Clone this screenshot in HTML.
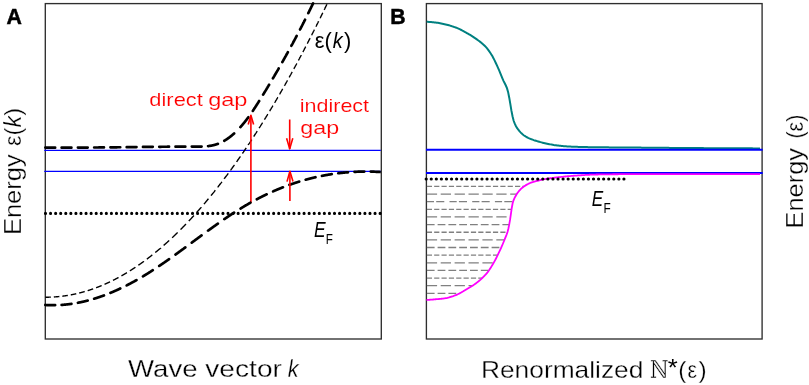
<!DOCTYPE html>
<html><head><meta charset="utf-8"><style>
html,body{margin:0;padding:0;background:#fff;}
svg{display:block;}
text{font-family:"Liberation Sans","DejaVu Sans",sans-serif;}
.th{stroke:#fff;stroke-width:0.3px;}
.th2{stroke:#fff;stroke-width:0.15px;}
.tk{stroke:#000;stroke-width:0.5px;}
</style></head><body>
<svg width="809" height="385" viewBox="0 0 809 385">
  <rect width="809" height="385" fill="#fff"/>
  <defs>
    <clipPath id="ca"><rect x="44" y="1.5" width="336.8" height="337.5"/></clipPath>
    <clipPath id="cb"><rect x="425.9" y="3.6" width="336.8" height="335.4"/></clipPath>
    <clipPath id="ch"><path d="M426.5,170 L760,170 L760,174.2 L759.16,174.2 L758.33,174.2 L757.49,174.2 L756.66,174.2 L755.82,174.2 L754.98,174.2 L754.15,174.2 L753.31,174.2 L752.48,174.2 L751.64,174.2 L750.81,174.2 L749.97,174.2 L749.13,174.2 L748.3,174.2 L747.46,174.2 L746.63,174.2 L745.79,174.2 L744.95,174.2 L744.12,174.2 L743.28,174.2 L742.45,174.2 L741.61,174.2 L740.78,174.2 L739.94,174.2 L739.1,174.2 L738.27,174.2 L737.43,174.2 L736.6,174.2 L735.76,174.2 L734.92,174.2 L734.09,174.2 L733.25,174.2 L732.42,174.2 L731.58,174.2 L730.75,174.2 L729.91,174.2 L729.07,174.2 L728.24,174.2 L727.4,174.2 L726.57,174.2 L725.73,174.2 L724.89,174.2 L724.06,174.2 L723.22,174.2 L722.39,174.2 L721.55,174.2 L720.72,174.2 L719.88,174.2 L719.04,174.2 L718.21,174.2 L717.37,174.2 L716.54,174.2 L715.7,174.2 L714.86,174.2 L714.03,174.2 L713.19,174.2 L712.36,174.2 L711.52,174.2 L710.69,174.2 L709.85,174.2 L709.01,174.2 L708.18,174.2 L707.34,174.2 L706.51,174.2 L705.67,174.2 L704.83,174.2 L704,174.2 L703.16,174.2 L702.33,174.2 L701.49,174.2 L700.66,174.2 L699.82,174.2 L698.98,174.2 L698.15,174.2 L697.31,174.2 L696.48,174.2 L695.64,174.2 L694.8,174.2 L693.97,174.2 L693.13,174.2 L692.3,174.2 L691.46,174.2 L690.63,174.2 L689.79,174.2 L688.95,174.2 L688.12,174.2 L687.28,174.2 L686.45,174.2 L685.61,174.2 L684.77,174.2 L683.94,174.2 L683.1,174.2 L682.27,174.2 L681.43,174.2 L680.6,174.2 L679.76,174.2 L678.92,174.2 L678.09,174.2 L677.25,174.2 L676.42,174.2 L675.58,174.2 L674.74,174.2 L673.91,174.2 L673.07,174.2 L672.24,174.2 L671.4,174.2 L670.57,174.2 L669.73,174.2 L668.89,174.2 L668.06,174.2 L667.22,174.2 L666.39,174.2 L665.55,174.2 L664.71,174.2 L663.88,174.2 L663.04,174.2 L662.21,174.2 L661.37,174.2 L660.54,174.2 L659.7,174.2 L658.86,174.2 L658.03,174.2 L657.19,174.2 L656.36,174.2 L655.52,174.2 L654.68,174.2 L653.85,174.2 L653.01,174.2 L652.18,174.2 L651.34,174.2 L650.51,174.2 L649.67,174.2 L648.83,174.2 L648,174.2 L647.16,174.2 L646.33,174.2 L645.49,174.2 L644.65,174.2 L643.82,174.2 L642.98,174.2 L642.15,174.2 L641.31,174.2 L640.47,174.2 L639.64,174.2 L638.8,174.2 L637.97,174.2 L637.13,174.2 L636.3,174.2 L635.46,174.2 L634.62,174.2 L633.79,174.2 L632.95,174.2 L632.12,174.2 L631.28,174.2 L630.44,174.2 L629.61,174.2 L628.77,174.2 L627.94,174.2 L627.1,174.2 L626.27,174.2 L625.43,174.2 L624.59,174.2 L623.76,174.2 L622.92,174.21 L622.09,174.21 L621.25,174.21 L620.41,174.21 L619.58,174.22 L618.74,174.22 L617.91,174.23 L617.07,174.24 L616.24,174.24 L615.4,174.25 L614.56,174.26 L613.73,174.26 L612.89,174.27 L612.06,174.28 L611.22,174.29 L610.38,174.3 L609.55,174.31 L608.71,174.32 L607.88,174.33 L607.04,174.34 L606.21,174.35 L605.37,174.36 L604.53,174.37 L603.7,174.39 L602.86,174.4 L602.03,174.41 L601.19,174.43 L600.35,174.44 L599.52,174.45 L598.68,174.47 L597.85,174.48 L597.01,174.5 L596.18,174.51 L595.34,174.53 L594.5,174.55 L593.67,174.58 L592.83,174.61 L592,174.64 L591.16,174.67 L590.32,174.71 L589.49,174.75 L588.65,174.79 L587.82,174.83 L586.98,174.88 L586.15,174.93 L585.31,174.97 L584.47,175.03 L583.64,175.08 L582.8,175.13 L581.97,175.18 L581.13,175.24 L580.29,175.3 L579.46,175.35 L578.62,175.41 L577.79,175.47 L576.95,175.53 L576.12,175.59 L575.28,175.65 L574.44,175.7 L573.61,175.76 L572.77,175.83 L571.94,175.89 L571.1,175.96 L570.26,176.03 L569.43,176.11 L568.59,176.18 L567.76,176.26 L566.92,176.34 L566.09,176.42 L565.25,176.51 L564.41,176.59 L563.58,176.68 L562.74,176.77 L561.91,176.86 L561.07,176.95 L560.23,177.04 L559.4,177.13 L558.56,177.23 L557.73,177.32 L556.89,177.42 L556.06,177.51 L555.22,177.61 L554.38,177.71 L553.55,177.81 L552.71,177.92 L551.88,178.03 L551.04,178.14 L550.2,178.25 L549.37,178.37 L548.53,178.49 L547.7,178.62 L546.86,178.75 L546.03,178.89 L545.19,179.03 L544.35,179.18 L543.52,179.35 L542.68,179.54 L541.85,179.74 L541.01,179.95 L540.17,180.16 L539.34,180.36 L538.5,180.56 L537.67,180.76 L536.83,180.96 L535.99,181.16 L535.16,181.37 L534.32,181.59 L533.49,181.83 L532.65,182.08 L531.82,182.36 L530.98,182.65 L530.14,182.99 L529.31,183.35 L528.47,183.75 L527.64,184.18 L526.8,184.64 L525.96,185.13 L525.13,185.64 L524.29,186.2 L523.46,186.8 L522.62,187.46 L521.79,188.17 L520.95,188.94 L520.11,189.77 L519.28,190.67 L518.44,191.68 L517.61,192.82 L516.77,194.09 L515.93,195.47 L515.1,196.94 L514.26,198.58 L513.43,200.62 L512.59,203.5 L511.76,207.98 L510.92,213.78 L510.08,219.69 L509.25,224.39 L508.41,228.46 L507.58,231.67 L506.74,234.22 L505.9,236.39 L505.07,238.41 L504.23,240.47 L503.4,242.52 L502.56,244.52 L501.73,246.47 L500.89,248.36 L500.05,250.18 L499.22,251.97 L498.38,253.72 L497.55,255.44 L496.71,257.11 L495.87,258.74 L495.04,260.32 L494.2,261.84 L493.37,263.3 L492.53,264.73 L491.7,266.14 L490.86,267.51 L490.02,268.82 L489.19,270.08 L488.35,271.25 L487.52,272.34 L486.68,273.34 L485.84,274.3 L485.01,275.22 L484.17,276.1 L483.34,276.95 L482.5,277.77 L481.67,278.56 L480.83,279.33 L479.99,280.06 L479.16,280.78 L478.32,281.47 L477.49,282.14 L476.65,282.79 L475.81,283.42 L474.98,284.03 L474.14,284.62 L473.31,285.19 L472.47,285.75 L471.64,286.29 L470.8,286.81 L469.96,287.33 L469.13,287.84 L468.29,288.34 L467.46,288.83 L466.62,289.33 L465.78,289.82 L464.95,290.32 L464.11,290.82 L463.28,291.32 L462.44,291.8 L461.61,292.28 L460.77,292.75 L459.93,293.2 L459.1,293.64 L458.26,294.05 L457.43,294.44 L456.59,294.8 L455.75,295.14 L454.92,295.46 L454.08,295.78 L453.25,296.1 L452.41,296.4 L451.58,296.69 L450.74,296.97 L449.9,297.23 L449.07,297.48 L448.23,297.7 L447.4,297.9 L446.56,298.07 L445.72,298.21 L444.89,298.34 L444.05,298.45 L443.22,298.56 L442.38,298.65 L441.55,298.74 L440.71,298.83 L439.87,298.91 L439.04,298.98 L438.2,299.06 L437.37,299.13 L436.53,299.2 L435.69,299.27 L434.86,299.35 L434.02,299.42 L433.19,299.49 L432.35,299.56 L431.52,299.63 L430.68,299.7 L429.84,299.76 L429.01,299.82 L428.17,299.89 L427.34,299.94 L426.5,300 Z"/></clipPath>
  </defs>
  <!-- Panel A -->
  <rect x="45.3" y="3.6" width="336" height="335.4" fill="none" stroke="#2e2e2e" stroke-width="1.35"/>
  <g clip-path="url(#ca)" fill="none">
    <line x1="44.3" y1="150.3" x2="382" y2="150.3" stroke="#0000ff" stroke-width="1.2"/>
    <line x1="44.3" y1="171.4" x2="382" y2="171.4" stroke="#0000ff" stroke-width="1.2"/>
    <path d="M45.4,297.21 L45.5,297.21 L45.59,297.21 L45.69,297.21 L45.78,297.21 L45.88,297.21 L45.97,297.21 L46.07,297.21 L46.16,297.21 L46.26,297.21 L46.36,297.21 L46.45,297.21 L46.55,297.21 L46.64,297.21 L46.74,297.2 L46.83,297.2 L46.93,297.2 L47.02,297.2 L47.12,297.2 L47.22,297.2 L47.31,297.2 L47.41,297.2 L47.5,297.2 L47.6,297.2 L47.69,297.19 L47.79,297.19 L47.88,297.19 L47.98,297.19 L48.08,297.19 L48.17,297.19 L48.27,297.19 L48.36,297.18 L48.46,297.18 L48.55,297.18 L48.65,297.18 L48.74,297.18 L48.84,297.17 L48.94,297.17 L49.03,297.17 L49.13,297.17 L49.22,297.16 L49.32,297.16 L49.41,297.16 L49.51,297.16 L49.6,297.15 L49.7,297.15 L49.8,297.15 L49.89,297.15 L49.99,297.14 L50.08,297.14 L50.18,297.14 L50.27,297.13 L50.37,297.13 L50.46,297.13 L50.56,297.12 L50.66,297.12 L50.75,297.12 L50.85,297.11 L50.9,297.11 M53.85,296.97 L53.91,296.96 L54,296.96 L54.1,296.95 L54.19,296.95 L54.29,296.94 L54.38,296.93 L54.48,296.93 L54.57,296.92 L54.67,296.91 L54.77,296.91 L54.86,296.9 L54.96,296.9 L55.05,296.89 L55.15,296.88 L55.24,296.88 L55.34,296.87 L55.43,296.86 L55.53,296.85 L55.63,296.85 L55.72,296.84 L55.82,296.83 L55.91,296.83 L56.01,296.82 L56.1,296.81 L56.2,296.8 L56.29,296.8 L56.39,296.79 L56.49,296.78 L56.58,296.77 L56.68,296.77 L56.77,296.76 L56.87,296.75 L56.96,296.74 L57.06,296.73 L57.15,296.73 L57.25,296.72 L57.35,296.71 L57.44,296.7 L57.54,296.69 L57.63,296.69 L57.73,296.68 L57.82,296.67 L57.92,296.66 L58.01,296.65 L58.11,296.64 L58.21,296.63 L58.3,296.62 L58.4,296.62 L58.49,296.61 L58.59,296.6 L58.68,296.59 L58.78,296.58 L58.87,296.57 L58.97,296.56 L59.07,296.55 L59.16,296.54 L59.26,296.53 L59.35,296.52 M62.3,296.19 L62.32,296.19 L62.41,296.18 L62.51,296.17 L62.6,296.15 L62.7,296.14 L62.79,296.13 L62.89,296.12 L62.98,296.11 L63.08,296.09 L63.18,296.08 L63.27,296.07 L63.37,296.06 L63.46,296.04 L63.56,296.03 L63.65,296.02 L63.75,296 L63.84,295.99 L63.94,295.98 L64.04,295.97 L64.13,295.95 L64.23,295.94 L64.32,295.93 L64.42,295.91 L64.51,295.9 L64.61,295.89 L64.7,295.87 L64.8,295.86 L64.9,295.85 L64.99,295.83 L65.09,295.82 L65.18,295.8 L65.28,295.79 L65.37,295.78 L65.47,295.76 L65.56,295.75 L65.66,295.73 L65.76,295.72 L65.85,295.71 L65.95,295.69 L66.04,295.68 L66.14,295.66 L66.23,295.65 L66.33,295.63 L66.42,295.62 L66.52,295.6 L66.62,295.59 L66.71,295.57 L66.81,295.56 L66.9,295.54 L67,295.53 L67.09,295.51 L67.19,295.5 L67.28,295.48 L67.38,295.47 L67.48,295.45 L67.57,295.44 L67.67,295.42 L67.76,295.41 L67.8,295.4 M70.75,294.88 L70.82,294.87 L70.92,294.85 L71.01,294.83 L71.11,294.82 L71.2,294.8 L71.3,294.78 L71.39,294.76 L71.49,294.74 L71.58,294.72 L71.68,294.71 L71.78,294.69 L71.87,294.67 L71.97,294.65 L72.06,294.63 L72.16,294.61 L72.25,294.59 L72.35,294.57 L72.44,294.56 L72.54,294.54 L72.64,294.52 L72.73,294.5 L72.83,294.48 L72.92,294.46 L73.02,294.44 L73.11,294.42 L73.21,294.4 L73.31,294.38 L73.4,294.36 L73.5,294.34 L73.59,294.32 L73.69,294.3 L73.78,294.28 L73.88,294.26 L73.97,294.24 L74.07,294.22 L74.17,294.2 L74.26,294.18 L74.36,294.16 L74.45,294.14 L74.55,294.12 L74.64,294.1 L74.74,294.08 L74.83,294.06 L74.93,294.04 L75.03,294.02 L75.12,294 L75.22,293.98 L75.31,293.95 L75.41,293.93 L75.5,293.91 L75.6,293.89 L75.69,293.87 L75.79,293.85 L75.89,293.83 L75.98,293.8 L76.08,293.78 L76.17,293.76 L76.25,293.74 M79.2,293.04 L79.23,293.03 L79.33,293.01 L79.42,292.99 L79.52,292.96 L79.61,292.94 L79.71,292.91 L79.8,292.89 L79.9,292.86 L79.99,292.84 L80.09,292.82 L80.19,292.79 L80.28,292.77 L80.38,292.74 L80.47,292.72 L80.57,292.69 L80.66,292.67 L80.76,292.64 L80.85,292.62 L80.95,292.59 L81.05,292.57 L81.14,292.54 L81.24,292.52 L81.33,292.49 L81.43,292.47 L81.52,292.44 L81.62,292.41 L81.71,292.39 L81.81,292.36 L81.91,292.34 L82,292.31 L82.1,292.29 L82.19,292.26 L82.29,292.23 L82.38,292.21 L82.48,292.18 L82.57,292.16 L82.67,292.13 L82.77,292.1 L82.86,292.08 L82.96,292.05 L83.05,292.02 L83.15,292 L83.24,291.97 L83.34,291.94 L83.43,291.92 L83.53,291.89 L83.63,291.86 L83.72,291.84 L83.82,291.81 L83.91,291.78 L84.01,291.75 L84.1,291.73 L84.2,291.7 L84.3,291.67 L84.39,291.64 L84.49,291.62 L84.58,291.59 L84.68,291.56 L84.7,291.56 M87.65,290.67 L87.74,290.64 L87.83,290.61 L87.93,290.58 L88.02,290.55 L88.12,290.52 L88.21,290.49 L88.31,290.46 L88.4,290.43 L88.5,290.4 L88.6,290.37 L88.69,290.34 L88.79,290.31 L88.88,290.28 L88.98,290.24 L89.07,290.21 L89.17,290.18 L89.26,290.15 L89.36,290.12 L89.46,290.09 L89.55,290.06 L89.65,290.03 L89.74,290 L89.84,289.96 L89.93,289.93 L90.03,289.9 L90.12,289.87 L90.22,289.84 L90.32,289.81 L90.41,289.77 L90.51,289.74 L90.6,289.71 L90.7,289.68 L90.79,289.65 L90.89,289.61 L90.98,289.58 L91.08,289.55 L91.18,289.52 L91.27,289.49 L91.37,289.45 L91.46,289.42 L91.56,289.39 L91.65,289.35 L91.75,289.32 L91.84,289.29 L91.94,289.26 L92.04,289.22 L92.13,289.19 L92.23,289.16 L92.32,289.12 L92.42,289.09 L92.51,289.06 L92.61,289.02 L92.7,288.99 L92.8,288.96 L92.9,288.92 L92.99,288.89 L93.09,288.86 L93.15,288.83 M96.1,287.76 L96.15,287.74 L96.24,287.71 L96.34,287.67 L96.43,287.63 L96.53,287.6 L96.62,287.56 L96.72,287.53 L96.81,287.49 L96.91,287.45 L97.01,287.42 L97.1,287.38 L97.2,287.34 L97.29,287.31 L97.39,287.27 L97.48,287.23 L97.58,287.2 L97.67,287.16 L97.77,287.12 L97.87,287.08 L97.96,287.05 L98.06,287.01 L98.15,286.97 L98.25,286.94 L98.34,286.9 L98.44,286.86 L98.53,286.82 L98.63,286.79 L98.73,286.75 L98.82,286.71 L98.92,286.67 L99.01,286.63 L99.11,286.6 L99.2,286.56 L99.3,286.52 L99.39,286.48 L99.49,286.44 L99.59,286.4 L99.68,286.37 L99.78,286.33 L99.87,286.29 L99.97,286.25 L100.06,286.21 L100.16,286.17 L100.25,286.13 L100.35,286.1 L100.45,286.06 L100.54,286.02 L100.64,285.98 L100.73,285.94 L100.83,285.9 L100.92,285.86 L101.02,285.82 L101.11,285.78 L101.21,285.74 L101.31,285.7 L101.4,285.66 L101.5,285.62 L101.59,285.58 L101.6,285.58 M104.55,284.32 L104.55,284.32 L104.65,284.28 L104.75,284.23 L104.84,284.19 L104.94,284.15 L105.03,284.11 L105.13,284.07 L105.22,284.02 L105.32,283.98 L105.41,283.94 L105.51,283.9 L105.61,283.85 L105.7,283.81 L105.8,283.77 L105.89,283.72 L105.99,283.68 L106.08,283.64 L106.18,283.6 L106.28,283.55 L106.37,283.51 L106.47,283.47 L106.56,283.42 L106.66,283.38 L106.75,283.34 L106.85,283.29 L106.94,283.25 L107.04,283.21 L107.14,283.16 L107.23,283.12 L107.33,283.07 L107.42,283.03 L107.52,282.99 L107.61,282.94 L107.71,282.9 L107.8,282.85 L107.9,282.81 L108,282.77 L108.09,282.72 L108.19,282.68 L108.28,282.63 L108.38,282.59 L108.47,282.54 L108.57,282.5 L108.66,282.45 L108.76,282.41 L108.86,282.36 L108.95,282.32 L109.05,282.27 L109.14,282.23 L109.24,282.18 L109.33,282.14 L109.43,282.09 L109.52,282.05 L109.62,282 L109.72,281.96 L109.81,281.91 L109.91,281.87 L110,281.82 L110.05,281.8 M113,280.35 L113.06,280.32 L113.16,280.27 L113.25,280.22 L113.35,280.18 L113.44,280.13 L113.54,280.08 L113.63,280.03 L113.73,279.98 L113.82,279.93 L113.92,279.89 L114.02,279.84 L114.11,279.79 L114.21,279.74 L114.3,279.69 L114.4,279.64 L114.49,279.59 L114.59,279.54 L114.68,279.5 L114.78,279.45 L114.88,279.4 L114.97,279.35 L115.07,279.3 L115.16,279.25 L115.26,279.2 L115.35,279.15 L115.45,279.1 L115.54,279.05 L115.64,279 L115.74,278.95 L115.83,278.9 L115.93,278.85 L116.02,278.8 L116.12,278.75 L116.21,278.7 L116.31,278.65 L116.4,278.6 L116.5,278.55 L116.6,278.5 L116.69,278.45 L116.79,278.4 L116.88,278.35 L116.98,278.3 L117.07,278.25 L117.17,278.2 L117.27,278.14 L117.36,278.09 L117.46,278.04 L117.55,277.99 L117.65,277.94 L117.74,277.89 L117.84,277.84 L117.93,277.79 L118.03,277.74 L118.13,277.68 L118.22,277.63 L118.32,277.58 L118.41,277.53 L118.5,277.48 M121.45,275.85 L121.47,275.84 L121.57,275.78 L121.66,275.73 L121.76,275.68 L121.85,275.62 L121.95,275.57 L122.04,275.51 L122.14,275.46 L122.23,275.4 L122.33,275.35 L122.43,275.3 L122.52,275.24 L122.62,275.19 L122.71,275.13 L122.81,275.08 L122.9,275.02 L123,274.97 L123.09,274.91 L123.19,274.86 L123.29,274.8 L123.38,274.75 L123.48,274.69 L123.57,274.64 L123.67,274.58 L123.76,274.52 L123.86,274.47 L123.95,274.41 L124.05,274.36 L124.15,274.3 L124.24,274.25 L124.34,274.19 L124.43,274.13 L124.53,274.08 L124.62,274.02 L124.72,273.97 L124.81,273.91 L124.91,273.85 L125.01,273.8 L125.1,273.74 L125.2,273.68 L125.29,273.63 L125.39,273.57 L125.48,273.51 L125.58,273.46 L125.67,273.4 L125.77,273.34 L125.87,273.29 L125.96,273.23 L126.06,273.17 L126.15,273.11 L126.25,273.06 L126.34,273 L126.44,272.94 L126.53,272.89 L126.63,272.83 L126.73,272.77 L126.82,272.71 L126.92,272.65 L126.95,272.63 M129.9,270.82 L129.98,270.77 L130.07,270.71 L130.17,270.65 L130.26,270.59 L130.36,270.53 L130.45,270.47 L130.55,270.41 L130.64,270.35 L130.74,270.29 L130.84,270.23 L130.93,270.17 L131.03,270.11 L131.12,270.05 L131.22,269.99 L131.31,269.92 L131.41,269.86 L131.5,269.8 L131.6,269.74 L131.7,269.68 L131.79,269.62 L131.89,269.56 L131.98,269.5 L132.08,269.44 L132.17,269.37 L132.27,269.31 L132.36,269.25 L132.46,269.19 L132.56,269.13 L132.65,269.07 L132.75,269 L132.84,268.94 L132.94,268.88 L133.03,268.82 L133.13,268.76 L133.22,268.69 L133.32,268.63 L133.42,268.57 L133.51,268.51 L133.61,268.44 L133.7,268.38 L133.8,268.32 L133.89,268.26 L133.99,268.19 L134.08,268.13 L134.18,268.07 L134.28,268 L134.37,267.94 L134.47,267.88 L134.56,267.81 L134.66,267.75 L134.75,267.69 L134.85,267.62 L134.94,267.56 L135.04,267.5 L135.14,267.43 L135.23,267.37 L135.33,267.31 L135.4,267.26 M138.35,265.26 L138.38,265.23 L138.48,265.17 L138.58,265.1 L138.67,265.03 L138.77,264.97 L138.86,264.9 L138.96,264.84 L139.05,264.77 L139.15,264.7 L139.25,264.64 L139.34,264.57 L139.44,264.5 L139.53,264.44 L139.63,264.37 L139.72,264.3 L139.82,264.24 L139.91,264.17 L140.01,264.1 L140.11,264.03 L140.2,263.97 L140.3,263.9 L140.39,263.83 L140.49,263.77 L140.58,263.7 L140.68,263.63 L140.77,263.56 L140.87,263.5 L140.97,263.43 L141.06,263.36 L141.16,263.29 L141.25,263.22 L141.35,263.16 L141.44,263.09 L141.54,263.02 L141.63,262.95 L141.73,262.88 L141.83,262.82 L141.92,262.75 L142.02,262.68 L142.11,262.61 L142.21,262.54 L142.3,262.47 L142.4,262.4 L142.49,262.34 L142.59,262.27 L142.69,262.2 L142.78,262.13 L142.88,262.06 L142.97,261.99 L143.07,261.92 L143.16,261.85 L143.26,261.78 L143.35,261.71 L143.45,261.64 L143.55,261.57 L143.64,261.5 L143.74,261.43 L143.83,261.37 L143.85,261.35 M146.8,259.17 L146.89,259.1 L146.99,259.03 L147.08,258.95 L147.18,258.88 L147.27,258.81 L147.37,258.74 L147.46,258.66 L147.56,258.59 L147.65,258.52 L147.75,258.45 L147.85,258.37 L147.94,258.3 L148.04,258.23 L148.13,258.16 L148.23,258.08 L148.32,258.01 L148.42,257.94 L148.51,257.86 L148.61,257.79 L148.71,257.72 L148.8,257.65 L148.9,257.57 L148.99,257.5 L149.09,257.43 L149.18,257.35 L149.28,257.28 L149.37,257.2 L149.47,257.13 L149.57,257.06 L149.66,256.98 L149.76,256.91 L149.85,256.84 L149.95,256.76 L150.04,256.69 L150.14,256.61 L150.24,256.54 L150.33,256.46 L150.43,256.39 L150.52,256.32 L150.62,256.24 L150.71,256.17 L150.81,256.09 L150.9,256.02 L151,255.94 L151.1,255.87 L151.19,255.79 L151.29,255.72 L151.38,255.64 L151.48,255.57 L151.57,255.49 L151.67,255.42 L151.76,255.34 L151.86,255.27 L151.96,255.19 L152.05,255.11 L152.15,255.04 L152.24,254.96 L152.3,254.92 M155.25,252.55 L155.3,252.5 L155.4,252.43 L155.49,252.35 L155.59,252.27 L155.68,252.19 L155.78,252.11 L155.87,252.04 L155.97,251.96 L156.06,251.88 L156.16,251.8 L156.26,251.72 L156.35,251.64 L156.45,251.57 L156.54,251.49 L156.64,251.41 L156.73,251.33 L156.83,251.25 L156.92,251.17 L157.02,251.09 L157.12,251.01 L157.21,250.93 L157.31,250.85 L157.4,250.77 L157.5,250.7 L157.59,250.62 L157.69,250.54 L157.78,250.46 L157.88,250.38 L157.98,250.3 L158.07,250.22 L158.17,250.14 L158.26,250.06 L158.36,249.98 L158.45,249.9 L158.55,249.82 L158.64,249.74 L158.74,249.66 L158.84,249.58 L158.93,249.5 L159.03,249.42 L159.12,249.34 L159.22,249.25 L159.31,249.17 L159.41,249.09 L159.5,249.01 L159.6,248.93 L159.7,248.85 L159.79,248.77 L159.89,248.69 L159.98,248.61 L160.08,248.53 L160.17,248.44 L160.27,248.36 L160.36,248.28 L160.46,248.2 L160.56,248.12 L160.65,248.04 L160.75,247.96 L160.75,247.95 M163.7,245.4 L163.71,245.39 L163.81,245.3 L163.9,245.22 L164,245.14 L164.09,245.05 L164.19,244.97 L164.28,244.88 L164.38,244.8 L164.47,244.72 L164.57,244.63 L164.67,244.55 L164.76,244.46 L164.86,244.38 L164.95,244.29 L165.05,244.21 L165.14,244.12 L165.24,244.04 L165.33,243.95 L165.43,243.87 L165.53,243.78 L165.62,243.7 L165.72,243.61 L165.81,243.53 L165.91,243.44 L166,243.36 L166.1,243.27 L166.19,243.19 L166.29,243.1 L166.39,243.01 L166.48,242.93 L166.58,242.84 L166.67,242.76 L166.77,242.67 L166.86,242.58 L166.96,242.5 L167.05,242.41 L167.15,242.33 L167.25,242.24 L167.34,242.15 L167.44,242.07 L167.53,241.98 L167.63,241.89 L167.72,241.81 L167.82,241.72 L167.91,241.63 L168.01,241.55 L168.11,241.46 L168.2,241.37 L168.3,241.29 L168.39,241.2 L168.49,241.11 L168.58,241.02 L168.68,240.94 L168.77,240.85 L168.87,240.76 L168.97,240.68 L169.06,240.59 L169.16,240.5 L169.2,240.46 M172.15,237.72 L172.22,237.66 L172.31,237.57 L172.41,237.48 L172.5,237.39 L172.6,237.3 L172.69,237.21 L172.79,237.12 L172.88,237.03 L172.98,236.94 L173.08,236.85 L173.17,236.76 L173.27,236.67 L173.36,236.58 L173.46,236.49 L173.55,236.39 L173.65,236.3 L173.74,236.21 L173.84,236.12 L173.94,236.03 L174.03,235.94 L174.13,235.85 L174.22,235.76 L174.32,235.67 L174.41,235.57 L174.51,235.48 L174.6,235.39 L174.7,235.3 L174.8,235.21 L174.89,235.12 L174.99,235.03 L175.08,234.93 L175.18,234.84 L175.27,234.75 L175.37,234.66 L175.46,234.57 L175.56,234.47 L175.66,234.38 L175.75,234.29 L175.85,234.2 L175.94,234.1 L176.04,234.01 L176.13,233.92 L176.23,233.83 L176.32,233.73 L176.42,233.64 L176.52,233.55 L176.61,233.45 L176.71,233.36 L176.8,233.27 L176.9,233.18 L176.99,233.08 L177.09,232.99 L177.18,232.9 L177.28,232.8 L177.38,232.71 L177.47,232.62 L177.57,232.52 L177.65,232.44 M180.6,229.52 L180.62,229.49 L180.72,229.4 L180.82,229.3 L180.91,229.2 L181.01,229.11 L181.1,229.01 L181.2,228.91 L181.29,228.82 L181.39,228.72 L181.48,228.63 L181.58,228.53 L181.68,228.43 L181.77,228.34 L181.87,228.24 L181.96,228.14 L182.06,228.05 L182.15,227.95 L182.25,227.85 L182.34,227.76 L182.44,227.66 L182.54,227.56 L182.63,227.46 L182.73,227.37 L182.82,227.27 L182.92,227.17 L183.01,227.08 L183.11,226.98 L183.21,226.88 L183.3,226.78 L183.4,226.68 L183.49,226.59 L183.59,226.49 L183.68,226.39 L183.78,226.29 L183.87,226.2 L183.97,226.1 L184.07,226 L184.16,225.9 L184.26,225.8 L184.35,225.7 L184.45,225.61 L184.54,225.51 L184.64,225.41 L184.73,225.31 L184.83,225.21 L184.93,225.11 L185.02,225.01 L185.12,224.91 L185.21,224.82 L185.31,224.72 L185.4,224.62 L185.5,224.52 L185.59,224.42 L185.69,224.32 L185.79,224.22 L185.88,224.12 L185.98,224.02 L185.98,224.02 M188.78,221.07 L188.84,221 L188.94,220.9 L189.03,220.8 L189.13,220.7 L189.23,220.6 L189.32,220.49 L189.42,220.39 L189.51,220.29 L189.61,220.19 L189.7,220.09 L189.8,219.98 L189.89,219.88 L189.99,219.78 L190.09,219.68 L190.18,219.57 L190.28,219.47 L190.37,219.37 L190.47,219.27 L190.56,219.16 L190.66,219.06 L190.75,218.96 L190.85,218.86 L190.95,218.75 L191.04,218.65 L191.14,218.55 L191.23,218.44 L191.33,218.34 L191.42,218.24 L191.52,218.13 L191.61,218.03 L191.71,217.93 L191.81,217.82 L191.9,217.72 L192,217.61 L192.09,217.51 L192.19,217.41 L192.28,217.3 L192.38,217.2 L192.47,217.09 L192.57,216.99 L192.67,216.89 L192.76,216.78 L192.86,216.68 L192.95,216.57 L193.05,216.47 L193.14,216.36 L193.24,216.26 L193.33,216.15 L193.43,216.05 L193.53,215.95 L193.62,215.84 L193.72,215.74 L193.81,215.63 L193.87,215.57 M196.53,212.62 L196.58,212.55 L196.68,212.45 L196.78,212.34 L196.87,212.23 L196.97,212.13 L197.06,212.02 L197.16,211.91 L197.25,211.8 L197.35,211.7 L197.44,211.59 L197.54,211.48 L197.64,211.37 L197.73,211.26 L197.83,211.16 L197.92,211.05 L198.02,210.94 L198.11,210.83 L198.21,210.72 L198.3,210.62 L198.4,210.51 L198.5,210.4 L198.59,210.29 L198.69,210.18 L198.78,210.07 L198.88,209.97 L198.97,209.86 L199.07,209.75 L199.16,209.64 L199.26,209.53 L199.36,209.42 L199.45,209.31 L199.55,209.2 L199.64,209.09 L199.74,208.99 L199.83,208.88 L199.93,208.77 L200.02,208.66 L200.12,208.55 L200.22,208.44 L200.31,208.33 L200.41,208.22 L200.5,208.11 L200.6,208 L200.69,207.89 L200.79,207.78 L200.88,207.67 L200.98,207.56 L201.08,207.45 L201.17,207.34 L201.27,207.23 L201.36,207.12 L201.36,207.12 M203.9,204.17 L203.94,204.11 L204.04,204 L204.13,203.89 L204.23,203.78 L204.32,203.66 L204.42,203.55 L204.52,203.44 L204.61,203.33 L204.71,203.21 L204.8,203.1 L204.9,202.99 L204.99,202.87 L205.09,202.76 L205.18,202.65 L205.28,202.53 L205.38,202.42 L205.47,202.31 L205.57,202.19 L205.66,202.08 L205.76,201.97 L205.85,201.85 L205.95,201.74 L206.05,201.63 L206.14,201.51 L206.24,201.4 L206.33,201.29 L206.43,201.17 L206.52,201.06 L206.62,200.94 L206.71,200.83 L206.81,200.72 L206.91,200.6 L207,200.49 L207.1,200.37 L207.19,200.26 L207.29,200.14 L207.38,200.03 L207.48,199.91 L207.57,199.8 L207.67,199.68 L207.77,199.57 L207.86,199.45 L207.96,199.34 L208.05,199.22 L208.15,199.11 L208.24,198.99 L208.34,198.88 L208.43,198.76 L208.51,198.67 M210.94,195.72 L211.01,195.62 L211.11,195.51 L211.21,195.39 L211.3,195.27 L211.4,195.15 L211.49,195.04 L211.59,194.92 L211.68,194.8 L211.78,194.68 L211.87,194.57 L211.97,194.45 L212.07,194.33 L212.16,194.21 L212.26,194.09 L212.35,193.98 L212.45,193.86 L212.54,193.74 L212.64,193.62 L212.73,193.5 L212.83,193.38 L212.93,193.27 L213.02,193.15 L213.12,193.03 L213.21,192.91 L213.31,192.79 L213.4,192.67 L213.5,192.55 L213.59,192.43 L213.69,192.32 L213.79,192.2 L213.88,192.08 L213.98,191.96 L214.07,191.84 L214.17,191.72 L214.26,191.6 L214.36,191.48 L214.45,191.36 L214.55,191.24 L214.65,191.12 L214.74,191 L214.84,190.88 L214.93,190.76 L215.03,190.64 L215.12,190.52 L215.22,190.4 L215.31,190.28 L215.37,190.22 M217.7,187.27 L217.7,187.25 L217.8,187.13 L217.9,187.01 L217.99,186.89 L218.09,186.77 L218.18,186.64 L218.28,186.52 L218.37,186.4 L218.47,186.28 L218.56,186.15 L218.66,186.03 L218.76,185.91 L218.85,185.79 L218.95,185.66 L219.04,185.54 L219.14,185.42 L219.23,185.3 L219.33,185.17 L219.42,185.05 L219.52,184.93 L219.62,184.8 L219.71,184.68 L219.81,184.56 L219.9,184.43 L220,184.31 L220.09,184.19 L220.19,184.06 L220.28,183.94 L220.38,183.82 L220.48,183.69 L220.57,183.57 L220.67,183.44 L220.76,183.32 L220.86,183.2 L220.95,183.07 L221.05,182.95 L221.14,182.82 L221.24,182.7 L221.34,182.57 L221.43,182.45 L221.53,182.32 L221.62,182.2 L221.72,182.08 L221.81,181.95 L221.91,181.83 L221.95,181.77 M224.2,178.82 L224.2,178.81 L224.3,178.68 L224.39,178.56 L224.49,178.43 L224.58,178.3 L224.68,178.18 L224.78,178.05 L224.87,177.92 L224.97,177.8 L225.06,177.67 L225.16,177.54 L225.25,177.41 L225.35,177.29 L225.44,177.16 L225.54,177.03 L225.64,176.91 L225.73,176.78 L225.83,176.65 L225.92,176.52 L226.02,176.39 L226.11,176.27 L226.21,176.14 L226.3,176.01 L226.4,175.88 L226.5,175.76 L226.59,175.63 L226.69,175.5 L226.78,175.37 L226.88,175.24 L226.97,175.11 L227.07,174.99 L227.16,174.86 L227.26,174.73 L227.36,174.6 L227.45,174.47 L227.55,174.34 L227.64,174.21 L227.74,174.08 L227.83,173.96 L227.93,173.83 L228.03,173.7 L228.12,173.57 L228.22,173.44 L228.31,173.32 M230.47,170.37 L230.51,170.32 L230.61,170.19 L230.7,170.05 L230.8,169.92 L230.89,169.79 L230.99,169.66 L231.08,169.53 L231.18,169.4 L231.27,169.27 L231.37,169.14 L231.47,169 L231.56,168.87 L231.66,168.74 L231.75,168.61 L231.85,168.48 L231.94,168.35 L232.04,168.21 L232.13,168.08 L232.23,167.95 L232.33,167.82 L232.42,167.68 L232.52,167.55 L232.61,167.42 L232.71,167.29 L232.8,167.16 L232.9,167.02 L232.99,166.89 L233.09,166.76 L233.19,166.62 L233.28,166.49 L233.38,166.36 L233.47,166.23 L233.57,166.09 L233.66,165.96 L233.76,165.83 L233.85,165.69 L233.95,165.56 L234.05,165.43 L234.14,165.29 L234.24,165.16 L234.33,165.03 L234.43,164.89 L234.45,164.87 M236.54,161.92 L236.63,161.8 L236.72,161.67 L236.82,161.53 L236.91,161.4 L237.01,161.26 L237.1,161.12 L237.2,160.99 L237.29,160.85 L237.39,160.72 L237.49,160.58 L237.58,160.45 L237.68,160.31 L237.77,160.17 L237.87,160.04 L237.96,159.9 L238.06,159.77 L238.15,159.63 L238.25,159.49 L238.35,159.36 L238.44,159.22 L238.54,159.08 L238.63,158.95 L238.73,158.81 L238.82,158.67 L238.92,158.54 L239.02,158.4 L239.11,158.26 L239.21,158.13 L239.3,157.99 L239.4,157.85 L239.49,157.72 L239.59,157.58 L239.68,157.44 L239.78,157.3 L239.88,157.17 L239.97,157.03 L240.07,156.89 L240.16,156.75 L240.26,156.62 L240.35,156.48 L240.4,156.42 M242.43,153.47 L242.46,153.43 L242.55,153.29 L242.65,153.15 L242.74,153.01 L242.84,152.87 L242.93,152.73 L243.03,152.59 L243.12,152.45 L243.22,152.31 L243.32,152.17 L243.41,152.03 L243.51,151.89 L243.6,151.75 L243.7,151.61 L243.79,151.47 L243.89,151.33 L243.98,151.19 L244.08,151.05 L244.18,150.91 L244.27,150.77 L244.37,150.63 L244.46,150.49 L244.56,150.35 L244.65,150.21 L244.75,150.07 L244.84,149.93 L244.94,149.79 L245.04,149.64 L245.13,149.5 L245.23,149.36 L245.32,149.22 L245.42,149.08 L245.51,148.94 L245.61,148.8 L245.7,148.65 L245.8,148.51 L245.9,148.37 L245.99,148.23 L246.09,148.09 L246.17,147.97 M248.15,145.02 L248.19,144.95 L248.28,144.81 L248.38,144.66 L248.48,144.52 L248.57,144.38 L248.67,144.23 L248.76,144.09 L248.86,143.95 L248.95,143.8 L249.05,143.66 L249.14,143.52 L249.24,143.37 L249.34,143.23 L249.43,143.08 L249.53,142.94 L249.62,142.79 L249.72,142.65 L249.81,142.51 L249.91,142.36 L250.01,142.22 L250.1,142.07 L250.2,141.93 L250.29,141.78 L250.39,141.64 L250.48,141.49 L250.58,141.35 L250.67,141.2 L250.77,141.06 L250.87,140.91 L250.96,140.77 L251.06,140.62 L251.15,140.48 L251.25,140.33 L251.34,140.19 L251.44,140.04 L251.53,139.89 L251.63,139.75 L251.73,139.6 L251.78,139.52 M253.71,136.57 L253.73,136.53 L253.83,136.38 L253.92,136.23 L254.02,136.09 L254.11,135.94 L254.21,135.79 L254.31,135.64 L254.4,135.5 L254.5,135.35 L254.59,135.2 L254.69,135.05 L254.78,134.9 L254.88,134.76 L254.97,134.61 L255.07,134.46 L255.17,134.31 L255.26,134.16 L255.36,134.02 L255.45,133.87 L255.55,133.72 L255.64,133.57 L255.74,133.42 L255.83,133.27 L255.93,133.12 L256.03,132.98 L256.12,132.83 L256.22,132.68 L256.31,132.53 L256.41,132.38 L256.5,132.23 L256.6,132.08 L256.69,131.93 L256.79,131.78 L256.89,131.63 L256.98,131.48 L257.08,131.33 L257.17,131.19 L257.25,131.07 M259.12,128.12 L259.18,128.03 L259.27,127.88 L259.37,127.73 L259.47,127.58 L259.56,127.42 L259.66,127.27 L259.75,127.12 L259.85,126.97 L259.94,126.82 L260.04,126.67 L260.13,126.52 L260.23,126.36 L260.33,126.21 L260.42,126.06 L260.52,125.91 L260.61,125.76 L260.71,125.6 L260.8,125.45 L260.9,125.3 L261,125.15 L261.09,125 L261.19,124.84 L261.28,124.69 L261.38,124.54 L261.47,124.39 L261.57,124.23 L261.66,124.08 L261.76,123.93 L261.86,123.77 L261.95,123.62 L262.05,123.47 L262.14,123.32 L262.24,123.16 L262.33,123.01 L262.43,122.86 L262.52,122.7 L262.58,122.62 M264.41,119.67 L264.44,119.62 L264.53,119.47 L264.63,119.31 L264.72,119.16 L264.82,119 L264.91,118.85 L265.01,118.69 L265.1,118.54 L265.2,118.38 L265.3,118.23 L265.39,118.07 L265.49,117.92 L265.58,117.76 L265.68,117.61 L265.77,117.45 L265.87,117.29 L265.96,117.14 L266.06,116.98 L266.16,116.83 L266.25,116.67 L266.35,116.52 L266.44,116.36 L266.54,116.2 L266.63,116.05 L266.73,115.89 L266.82,115.73 L266.92,115.58 L267.02,115.42 L267.11,115.27 L267.21,115.11 L267.3,114.95 L267.4,114.8 L267.49,114.64 L267.59,114.48 L267.68,114.32 L267.78,114.17 L267.78,114.17 M269.57,111.22 L269.6,111.17 L269.69,111.01 L269.79,110.86 L269.88,110.7 L269.98,110.54 L270.07,110.38 L270.17,110.22 L270.26,110.06 L270.36,109.9 L270.46,109.74 L270.55,109.59 L270.65,109.43 L270.74,109.27 L270.84,109.11 L270.93,108.95 L271.03,108.79 L271.12,108.63 L271.22,108.47 L271.32,108.31 L271.41,108.15 L271.51,107.99 L271.6,107.83 L271.7,107.67 L271.79,107.51 L271.89,107.35 L271.99,107.19 L272.08,107.03 L272.18,106.87 L272.27,106.71 L272.37,106.55 L272.46,106.39 L272.56,106.23 L272.65,106.07 L272.75,105.91 L272.85,105.75 L272.87,105.72 M274.62,102.77 L274.66,102.69 L274.76,102.53 L274.85,102.36 L274.95,102.2 L275.04,102.04 L275.14,101.88 L275.23,101.72 L275.33,101.55 L275.43,101.39 L275.52,101.23 L275.62,101.07 L275.71,100.9 L275.81,100.74 L275.9,100.58 L276,100.42 L276.09,100.25 L276.19,100.09 L276.29,99.93 L276.38,99.76 L276.48,99.6 L276.57,99.44 L276.67,99.28 L276.76,99.11 L276.86,98.95 L276.95,98.79 L277.05,98.62 L277.15,98.46 L277.24,98.29 L277.34,98.13 L277.43,97.97 L277.53,97.8 L277.62,97.64 L277.72,97.48 L277.81,97.31 L277.84,97.27 M279.55,94.32 L279.63,94.18 L279.73,94.02 L279.82,93.85 L279.92,93.69 L280.01,93.52 L280.11,93.36 L280.2,93.19 L280.3,93.02 L280.39,92.86 L280.49,92.69 L280.59,92.53 L280.68,92.36 L280.78,92.19 L280.87,92.03 L280.97,91.86 L281.06,91.7 L281.16,91.53 L281.25,91.36 L281.35,91.2 L281.45,91.03 L281.54,90.86 L281.64,90.7 L281.73,90.53 L281.83,90.36 L281.92,90.2 L282.02,90.03 L282.11,89.86 L282.21,89.7 L282.31,89.53 L282.4,89.36 L282.5,89.19 L282.59,89.03 L282.69,88.86 L282.71,88.82 M284.39,85.87 L284.41,85.83 L284.5,85.67 L284.6,85.5 L284.7,85.33 L284.79,85.16 L284.89,84.99 L284.98,84.82 L285.08,84.65 L285.17,84.48 L285.27,84.31 L285.36,84.14 L285.46,83.98 L285.56,83.81 L285.65,83.64 L285.75,83.47 L285.84,83.3 L285.94,83.13 L286.03,82.96 L286.13,82.79 L286.22,82.62 L286.32,82.45 L286.42,82.28 L286.51,82.11 L286.61,81.94 L286.7,81.77 L286.8,81.6 L286.89,81.43 L286.99,81.26 L287.08,81.09 L287.18,80.92 L287.28,80.74 L287.37,80.57 L287.47,80.4 L287.49,80.37 M289.13,77.42 L289.19,77.32 L289.28,77.15 L289.38,76.97 L289.47,76.8 L289.57,76.63 L289.66,76.46 L289.76,76.29 L289.86,76.11 L289.95,75.94 L290.05,75.77 L290.14,75.6 L290.24,75.42 L290.33,75.25 L290.43,75.08 L290.52,74.9 L290.62,74.73 L290.72,74.56 L290.81,74.39 L290.91,74.21 L291,74.04 L291.1,73.87 L291.19,73.69 L291.29,73.52 L291.38,73.35 L291.48,73.17 L291.58,73 L291.67,72.82 L291.77,72.65 L291.86,72.48 L291.96,72.3 L292.05,72.13 L292.15,71.96 L292.17,71.92 M293.79,68.97 L293.87,68.81 L293.97,68.64 L294.06,68.46 L294.16,68.29 L294.25,68.11 L294.35,67.93 L294.44,67.76 L294.54,67.58 L294.63,67.41 L294.73,67.23 L294.83,67.06 L294.92,66.88 L295.02,66.7 L295.11,66.53 L295.21,66.35 L295.3,66.18 L295.4,66 L295.49,65.82 L295.59,65.65 L295.69,65.47 L295.78,65.29 L295.88,65.12 L295.97,64.94 L296.07,64.76 L296.16,64.59 L296.26,64.41 L296.35,64.23 L296.45,64.06 L296.55,63.88 L296.64,63.7 L296.74,63.52 L296.77,63.47 M298.35,60.52 L298.36,60.5 L298.46,60.32 L298.55,60.14 L298.65,59.97 L298.74,59.79 L298.84,59.61 L298.93,59.43 L299.03,59.25 L299.13,59.07 L299.22,58.89 L299.32,58.71 L299.41,58.54 L299.51,58.36 L299.6,58.18 L299.7,58 L299.79,57.82 L299.89,57.64 L299.99,57.46 L300.08,57.28 L300.18,57.1 L300.27,56.92 L300.37,56.74 L300.46,56.56 L300.56,56.38 L300.65,56.2 L300.75,56.02 L300.85,55.84 L300.94,55.66 L301.04,55.48 L301.13,55.3 L301.23,55.12 L301.28,55.02 M302.84,52.07 L302.85,52.04 L302.95,51.86 L303.04,51.68 L303.14,51.5 L303.23,51.32 L303.33,51.14 L303.43,50.95 L303.52,50.77 L303.62,50.59 L303.71,50.41 L303.81,50.23 L303.9,50.04 L304,49.86 L304.09,49.68 L304.19,49.5 L304.29,49.31 L304.38,49.13 L304.48,48.95 L304.57,48.77 L304.67,48.58 L304.76,48.4 L304.86,48.22 L304.96,48.03 L305.05,47.85 L305.15,47.67 L305.24,47.49 L305.34,47.3 L305.43,47.12 L305.53,46.94 L305.62,46.75 L305.72,46.57 L305.72,46.57 M307.25,43.62 L307.34,43.44 L307.44,43.25 L307.54,43.07 L307.63,42.89 L307.73,42.7 L307.82,42.52 L307.92,42.33 L308.01,42.15 L308.11,41.96 L308.2,41.78 L308.3,41.59 L308.4,41.4 L308.49,41.22 L308.59,41.03 L308.68,40.85 L308.78,40.66 L308.87,40.48 L308.97,40.29 L309.06,40.11 L309.16,39.92 L309.26,39.73 L309.35,39.55 L309.45,39.36 L309.54,39.18 L309.64,38.99 L309.73,38.8 L309.83,38.62 L309.92,38.43 L310.02,38.24 L310.09,38.12 M311.59,35.17 L311.64,35.06 L311.74,34.88 L311.84,34.69 L311.93,34.5 L312.03,34.31 L312.12,34.12 L312.22,33.94 L312.31,33.75 L312.41,33.56 L312.5,33.37 L312.6,33.18 L312.7,33 L312.79,32.81 L312.89,32.62 L312.98,32.43 L313.08,32.24 L313.17,32.05 L313.27,31.86 L313.36,31.68 L313.46,31.49 L313.56,31.3 L313.65,31.11 L313.75,30.92 L313.84,30.73 L313.94,30.54 L314.03,30.35 L314.13,30.16 L314.22,29.97 L314.32,29.78 L314.38,29.67 M315.86,26.72 L315.95,26.55 L316.04,26.36 L316.14,26.17 L316.23,25.98 L316.33,25.79 L316.42,25.6 L316.52,25.41 L316.61,25.22 L316.71,25.03 L316.81,24.83 L316.9,24.64 L317,24.45 L317.09,24.26 L317.19,24.07 L317.28,23.88 L317.38,23.69 L317.47,23.49 L317.57,23.3 L317.67,23.11 L317.76,22.92 L317.86,22.73 L317.95,22.53 L318.05,22.34 L318.14,22.15 L318.24,21.96 L318.33,21.77 L318.43,21.57 L318.53,21.38 L318.61,21.22 M320.07,18.27 L320.15,18.1 L320.25,17.91 L320.34,17.71 L320.44,17.52 L320.53,17.33 L320.63,17.13 L320.72,16.94 L320.82,16.74 L320.91,16.55 L321.01,16.36 L321.11,16.16 L321.2,15.97 L321.3,15.77 L321.39,15.58 L321.49,15.38 L321.58,15.19 L321.68,14.99 L321.77,14.8 L321.87,14.61 L321.97,14.41 L322.06,14.22 L322.16,14.02 L322.25,13.83 L322.35,13.63 L322.44,13.44 L322.54,13.24 L322.63,13.05 L322.73,12.85 L322.77,12.77 M324.21,9.82 L324.26,9.72 L324.35,9.52 L324.45,9.32 L324.55,9.13 L324.64,8.93 L324.74,8.73 L324.83,8.54 L324.93,8.34 L325.02,8.14 L325.12,7.95 L325.21,7.75 L325.31,7.55 L325.41,7.35 L325.5,7.16 L325.6,6.96 L325.69,6.76 L325.79,6.56 L325.88,6.37 L325.98,6.17 L326.07,5.97 L326.17,5.77 L326.27,5.58 L326.36,5.38 L326.46,5.18 L326.55,4.98 L326.65,4.78 L326.74,4.59 L326.84,4.39 L326.87,4.32" stroke="#000" stroke-width="1.4"/>
    <path d="M250.9,203 V116" stroke="#ff0000" stroke-width="1.6"/>
    <path d="M45.35,147.56 L45.44,147.57 L45.53,147.57 L45.62,147.57 L45.71,147.57 L45.8,147.57 L45.89,147.57 L45.98,147.57 L46.07,147.57 L46.16,147.57 L46.25,147.57 L46.34,147.57 L46.43,147.57 L46.52,147.57 L46.61,147.58 L46.7,147.58 L46.79,147.58 L46.88,147.58 L46.97,147.58 L47.06,147.58 L47.15,147.58 L47.24,147.58 L47.33,147.58 L47.42,147.58 L47.51,147.58 L47.6,147.58 L47.69,147.58 L47.78,147.58 L47.87,147.59 L47.96,147.59 L48.05,147.59 L48.14,147.59 L48.23,147.59 L48.32,147.59 L48.41,147.59 L48.5,147.59 L48.59,147.59 L48.68,147.59 L48.77,147.59 L48.86,147.59 L48.95,147.59 L49.04,147.59 L49.13,147.59 L49.22,147.59 L49.31,147.6 L49.4,147.6 L49.49,147.6 L49.58,147.6 L49.67,147.6 L49.76,147.6 L49.85,147.6 L49.94,147.6 L50.03,147.6 L50.12,147.6 L50.21,147.6 L50.3,147.6 L50.39,147.6 L50.48,147.6 L50.56,147.6 L50.65,147.6 L50.74,147.6 L50.83,147.61 L50.92,147.61 L51.01,147.61 L51.1,147.61 L51.19,147.61 L51.28,147.61 L51.37,147.61 L51.46,147.61 L51.55,147.61 L51.64,147.61 L51.73,147.61 L51.82,147.61 L51.91,147.61 L52,147.61 L52.09,147.61 L52.18,147.61 L52.27,147.61 L52.36,147.61 L52.45,147.61 L52.54,147.62 L52.63,147.62 L52.72,147.62 L52.81,147.62 L52.9,147.62 L52.99,147.62 L53.08,147.62 L53.17,147.62 L53.26,147.62 L53.35,147.62 L53.44,147.62 L53.53,147.62 L53.62,147.62 L53.71,147.62 L53.8,147.62 L53.89,147.62 L53.98,147.62 L54.07,147.62 L54.16,147.62 L54.25,147.62 L54.34,147.62 L54.43,147.62 L54.52,147.62 L54.61,147.63 L54.7,147.63 L54.79,147.63 L54.88,147.63 L54.97,147.63 L55.06,147.63 L55.15,147.63 M61.62,147.65 L61.62,147.65 L61.71,147.65 L61.8,147.65 L61.89,147.65 L61.98,147.65 L62.07,147.65 L62.16,147.65 L62.25,147.65 L62.34,147.65 L62.43,147.65 L62.52,147.65 L62.61,147.65 L62.7,147.65 L62.79,147.65 L62.88,147.65 L62.97,147.65 L63.06,147.65 L63.15,147.65 L63.24,147.65 L63.33,147.65 L63.42,147.65 L63.51,147.65 L63.6,147.65 L63.69,147.65 L63.78,147.65 L63.87,147.65 L63.96,147.65 L64.05,147.65 L64.14,147.65 L64.23,147.65 L64.32,147.65 L64.41,147.65 L64.5,147.65 L64.59,147.65 L64.68,147.65 L64.77,147.65 L64.86,147.65 L64.95,147.65 L65.04,147.65 L65.13,147.65 L65.22,147.65 L65.31,147.65 L65.4,147.65 L65.49,147.65 L65.58,147.65 L65.67,147.65 L65.76,147.65 L65.85,147.65 L65.94,147.65 L66.03,147.65 L66.12,147.65 L66.21,147.65 L66.3,147.65 L66.39,147.65 L66.48,147.65 L66.57,147.65 L66.66,147.65 L66.75,147.65 L66.84,147.65 L66.93,147.65 L67.02,147.65 L67.11,147.65 L67.2,147.65 L67.29,147.65 L67.38,147.65 L67.47,147.65 L67.56,147.65 L67.65,147.65 L67.74,147.65 L67.83,147.65 L67.92,147.65 L68.01,147.65 L68.1,147.65 L68.19,147.65 L68.28,147.65 L68.37,147.65 L68.46,147.65 L68.55,147.65 L68.64,147.65 L68.73,147.65 L68.82,147.65 L68.91,147.65 L69,147.65 L69.09,147.65 L69.18,147.65 L69.27,147.64 L69.36,147.64 L69.45,147.64 L69.54,147.64 L69.63,147.64 L69.72,147.64 L69.81,147.64 L69.9,147.64 L69.99,147.64 L70.08,147.64 L70.17,147.64 L70.26,147.64 L70.35,147.64 L70.44,147.64 L70.53,147.64 L70.62,147.64 L70.71,147.64 L70.8,147.64 L70.89,147.64 L70.98,147.64 L71.07,147.64 L71.16,147.64 L71.25,147.64 L71.33,147.64 L71.42,147.64 M77.89,147.62 L77.9,147.62 L77.99,147.62 L78.08,147.62 L78.17,147.62 L78.26,147.62 L78.35,147.62 L78.44,147.62 L78.53,147.62 L78.62,147.62 L78.71,147.62 L78.8,147.62 L78.89,147.62 L78.98,147.61 L79.07,147.61 L79.16,147.61 L79.25,147.61 L79.34,147.61 L79.43,147.61 L79.52,147.61 L79.61,147.61 L79.7,147.61 L79.79,147.61 L79.88,147.61 L79.97,147.61 L80.06,147.61 L80.15,147.61 L80.24,147.61 L80.33,147.61 L80.42,147.61 L80.51,147.61 L80.6,147.61 L80.69,147.61 L80.78,147.61 L80.87,147.61 L80.96,147.61 L81.05,147.6 L81.14,147.6 L81.23,147.6 L81.32,147.6 L81.41,147.6 L81.5,147.6 L81.59,147.6 L81.67,147.6 L81.76,147.6 L81.85,147.6 L81.94,147.6 L82.03,147.6 L82.12,147.6 L82.21,147.6 L82.3,147.6 L82.39,147.6 L82.48,147.6 L82.57,147.6 L82.66,147.6 L82.75,147.6 L82.84,147.59 L82.93,147.59 L83.02,147.59 L83.11,147.59 L83.2,147.59 L83.29,147.59 L83.38,147.59 L83.47,147.59 L83.56,147.59 L83.65,147.59 L83.74,147.59 L83.83,147.59 L83.92,147.59 L84.01,147.59 L84.1,147.59 L84.19,147.59 L84.28,147.59 L84.37,147.59 L84.46,147.59 L84.55,147.58 L84.64,147.58 L84.73,147.58 L84.82,147.58 L84.91,147.58 L85,147.58 L85.09,147.58 L85.18,147.58 L85.27,147.58 L85.36,147.58 L85.45,147.58 L85.54,147.58 L85.63,147.58 L85.72,147.58 L85.81,147.58 L85.9,147.58 L85.99,147.58 L86.08,147.57 L86.17,147.57 L86.26,147.57 L86.35,147.57 L86.44,147.57 L86.53,147.57 L86.62,147.57 L86.71,147.57 L86.8,147.57 L86.89,147.57 L86.98,147.57 L87.07,147.57 L87.16,147.57 L87.25,147.57 L87.34,147.57 L87.43,147.57 L87.52,147.57 L87.61,147.56 L87.69,147.56 M94.16,147.51 L94.17,147.51 L94.26,147.51 L94.35,147.51 L94.44,147.51 L94.53,147.51 L94.62,147.51 L94.71,147.51 L94.8,147.51 L94.89,147.51 L94.98,147.51 L95.07,147.51 L95.16,147.51 L95.25,147.5 L95.34,147.5 L95.43,147.5 L95.52,147.5 L95.61,147.5 L95.7,147.5 L95.79,147.5 L95.88,147.5 L95.97,147.5 L96.06,147.5 L96.15,147.5 L96.24,147.5 L96.33,147.49 L96.42,147.49 L96.51,147.49 L96.6,147.49 L96.69,147.49 L96.78,147.49 L96.87,147.49 L96.96,147.49 L97.05,147.49 L97.14,147.49 L97.23,147.49 L97.32,147.49 L97.41,147.49 L97.5,147.48 L97.59,147.48 L97.68,147.48 L97.77,147.48 L97.86,147.48 L97.95,147.48 L98.04,147.48 L98.13,147.48 L98.22,147.48 L98.31,147.48 L98.4,147.48 L98.49,147.48 L98.58,147.47 L98.67,147.47 L98.76,147.47 L98.85,147.47 L98.94,147.47 L99.03,147.47 L99.12,147.47 L99.21,147.47 L99.3,147.47 L99.39,147.47 L99.48,147.47 L99.57,147.46 L99.66,147.46 L99.75,147.46 L99.84,147.46 L99.93,147.46 L100.02,147.46 L100.11,147.46 L100.2,147.46 L100.29,147.46 L100.38,147.46 L100.47,147.46 L100.56,147.46 L100.65,147.45 L100.74,147.45 L100.83,147.45 L100.92,147.45 L101.01,147.45 L101.1,147.45 L101.19,147.45 L101.28,147.45 L101.37,147.45 L101.46,147.45 L101.55,147.45 L101.64,147.44 L101.73,147.44 L101.82,147.44 L101.91,147.44 L102,147.44 L102.09,147.44 L102.18,147.44 L102.27,147.44 L102.36,147.44 L102.44,147.44 L102.53,147.44 L102.62,147.44 L102.71,147.43 L102.8,147.43 L102.89,147.43 L102.98,147.43 L103.07,147.43 L103.16,147.43 L103.25,147.43 L103.34,147.43 L103.43,147.43 L103.52,147.43 L103.61,147.43 L103.7,147.42 L103.79,147.42 L103.88,147.42 L103.96,147.42 M110.43,147.35 L110.45,147.35 L110.54,147.35 L110.63,147.35 L110.72,147.35 L110.81,147.35 L110.9,147.35 L110.99,147.35 L111.08,147.35 L111.17,147.34 L111.26,147.34 L111.35,147.34 L111.44,147.34 L111.53,147.34 L111.62,147.34 L111.71,147.34 L111.8,147.34 L111.89,147.34 L111.98,147.34 L112.07,147.33 L112.16,147.33 L112.25,147.33 L112.34,147.33 L112.43,147.33 L112.52,147.33 L112.61,147.33 L112.7,147.33 L112.78,147.33 L112.87,147.33 L112.96,147.32 L113.05,147.32 L113.14,147.32 L113.23,147.32 L113.32,147.32 L113.41,147.32 L113.5,147.32 L113.59,147.32 L113.68,147.32 L113.77,147.31 L113.86,147.31 L113.95,147.31 L114.04,147.31 L114.13,147.31 L114.22,147.31 L114.31,147.31 L114.4,147.31 L114.49,147.31 L114.58,147.31 L114.67,147.3 L114.76,147.3 L114.85,147.3 L114.94,147.3 L115.03,147.3 L115.12,147.3 L115.21,147.3 L115.3,147.3 L115.39,147.3 L115.48,147.3 L115.57,147.29 L115.66,147.29 L115.75,147.29 L115.84,147.29 L115.93,147.29 L116.02,147.29 L116.11,147.29 L116.2,147.29 L116.29,147.29 L116.38,147.28 L116.47,147.28 L116.56,147.28 L116.65,147.28 L116.74,147.28 L116.83,147.28 L116.92,147.28 L117.01,147.28 L117.1,147.28 L117.19,147.28 L117.28,147.27 L117.37,147.27 L117.46,147.27 L117.55,147.27 L117.64,147.27 L117.73,147.27 L117.82,147.27 L117.91,147.27 L118,147.27 L118.09,147.26 L118.18,147.26 L118.27,147.26 L118.36,147.26 L118.45,147.26 L118.54,147.26 L118.63,147.26 L118.72,147.26 L118.81,147.26 L118.9,147.26 L118.99,147.25 L119.08,147.25 L119.17,147.25 L119.26,147.25 L119.35,147.25 L119.44,147.25 L119.53,147.25 L119.62,147.25 L119.71,147.25 L119.8,147.24 L119.89,147.24 L119.98,147.24 L120.07,147.24 L120.16,147.24 L120.23,147.24 M126.7,147.16 L126.72,147.16 L126.81,147.16 L126.9,147.16 L126.99,147.16 L127.08,147.16 L127.17,147.16 L127.26,147.15 L127.35,147.15 L127.44,147.15 L127.53,147.15 L127.62,147.15 L127.71,147.15 L127.8,147.15 L127.89,147.15 L127.98,147.15 L128.07,147.15 L128.16,147.14 L128.25,147.14 L128.34,147.14 L128.43,147.14 L128.52,147.14 L128.61,147.14 L128.7,147.14 L128.79,147.14 L128.88,147.14 L128.97,147.13 L129.06,147.13 L129.15,147.13 L129.24,147.13 L129.33,147.13 L129.42,147.13 L129.51,147.13 L129.6,147.13 L129.69,147.13 L129.78,147.12 L129.87,147.12 L129.96,147.12 L130.05,147.12 L130.14,147.12 L130.23,147.12 L130.32,147.12 L130.41,147.12 L130.5,147.12 L130.59,147.11 L130.68,147.11 L130.77,147.11 L130.86,147.11 L130.95,147.11 L131.04,147.11 L131.13,147.11 L131.22,147.11 L131.31,147.11 L131.4,147.1 L131.49,147.1 L131.58,147.1 L131.67,147.1 L131.76,147.1 L131.85,147.1 L131.94,147.1 L132.03,147.1 L132.12,147.1 L132.21,147.1 L132.3,147.09 L132.39,147.09 L132.48,147.09 L132.57,147.09 L132.66,147.09 L132.75,147.09 L132.84,147.09 L132.93,147.09 L133.02,147.09 L133.11,147.08 L133.2,147.08 L133.29,147.08 L133.38,147.08 L133.47,147.08 L133.55,147.08 L133.64,147.08 L133.73,147.08 L133.82,147.08 L133.91,147.07 L134,147.07 L134.09,147.07 L134.18,147.07 L134.27,147.07 L134.36,147.07 L134.45,147.07 L134.54,147.07 L134.63,147.07 L134.72,147.06 L134.81,147.06 L134.9,147.06 L134.99,147.06 L135.08,147.06 L135.17,147.06 L135.26,147.06 L135.35,147.06 L135.44,147.06 L135.53,147.05 L135.62,147.05 L135.71,147.05 L135.8,147.05 L135.89,147.05 L135.98,147.05 L136.07,147.05 L136.16,147.05 L136.25,147.05 L136.34,147.05 L136.43,147.04 L136.5,147.04 M142.97,146.97 L143,146.97 L143.09,146.97 L143.18,146.96 L143.27,146.96 L143.36,146.96 L143.45,146.96 L143.54,146.96 L143.63,146.96 L143.72,146.96 L143.81,146.96 L143.89,146.96 L143.98,146.96 L144.07,146.95 L144.16,146.95 L144.25,146.95 L144.34,146.95 L144.43,146.95 L144.52,146.95 L144.61,146.95 L144.7,146.95 L144.79,146.95 L144.88,146.95 L144.97,146.94 L145.06,146.94 L145.15,146.94 L145.24,146.94 L145.33,146.94 L145.42,146.94 L145.51,146.94 L145.6,146.94 L145.69,146.94 L145.78,146.94 L145.87,146.93 L145.96,146.93 L146.05,146.93 L146.14,146.93 L146.23,146.93 L146.32,146.93 L146.41,146.93 L146.5,146.93 L146.59,146.93 L146.68,146.92 L146.77,146.92 L146.86,146.92 L146.95,146.92 L147.04,146.92 L147.13,146.92 L147.22,146.92 L147.31,146.92 L147.4,146.92 L147.49,146.92 L147.58,146.91 L147.67,146.91 L147.76,146.91 L147.85,146.91 L147.94,146.91 L148.03,146.91 L148.12,146.91 L148.21,146.91 L148.3,146.91 L148.39,146.91 L148.48,146.9 L148.57,146.9 L148.66,146.9 L148.75,146.9 L148.84,146.9 L148.93,146.9 L149.02,146.9 L149.11,146.9 L149.2,146.9 L149.29,146.9 L149.38,146.9 L149.47,146.89 L149.56,146.89 L149.65,146.89 L149.74,146.89 L149.83,146.89 L149.92,146.89 L150.01,146.89 L150.1,146.89 L150.19,146.89 L150.28,146.89 L150.37,146.88 L150.46,146.88 L150.55,146.88 L150.64,146.88 L150.73,146.88 L150.82,146.88 L150.91,146.88 L151,146.88 L151.09,146.88 L151.18,146.88 L151.27,146.87 L151.36,146.87 L151.45,146.87 L151.54,146.87 L151.63,146.87 L151.72,146.87 L151.81,146.87 L151.9,146.87 L151.99,146.87 L152.08,146.87 L152.17,146.87 L152.26,146.86 L152.35,146.86 L152.44,146.86 L152.53,146.86 L152.62,146.86 L152.71,146.86 L152.77,146.86 M159.24,146.79 L159.27,146.79 L159.36,146.79 L159.45,146.79 L159.54,146.79 L159.63,146.79 L159.72,146.79 L159.81,146.79 L159.9,146.79 L159.99,146.79 L160.08,146.79 L160.17,146.79 L160.26,146.78 L160.35,146.78 L160.44,146.78 L160.53,146.78 L160.62,146.78 L160.71,146.78 L160.8,146.78 L160.89,146.78 L160.98,146.78 L161.07,146.78 L161.16,146.78 L161.25,146.78 L161.34,146.77 L161.43,146.77 L161.52,146.77 L161.61,146.77 L161.7,146.77 L161.79,146.77 L161.88,146.77 L161.97,146.77 L162.06,146.77 L162.15,146.77 L162.24,146.77 L162.33,146.77 L162.42,146.77 L162.51,146.76 L162.6,146.76 L162.69,146.76 L162.78,146.76 L162.87,146.76 L162.96,146.76 L163.05,146.76 L163.14,146.76 L163.23,146.76 L163.32,146.76 L163.41,146.76 L163.5,146.76 L163.59,146.76 L163.68,146.75 L163.77,146.75 L163.86,146.75 L163.95,146.75 L164.04,146.75 L164.13,146.75 L164.22,146.75 L164.31,146.75 L164.4,146.75 L164.49,146.75 L164.58,146.75 L164.66,146.75 L164.75,146.75 L164.84,146.74 L164.93,146.74 L165.02,146.74 L165.11,146.74 L165.2,146.74 L165.29,146.74 L165.38,146.74 L165.47,146.74 L165.56,146.74 L165.65,146.74 L165.74,146.74 L165.83,146.74 L165.92,146.74 L166.01,146.73 L166.1,146.73 L166.19,146.73 L166.28,146.73 L166.37,146.73 L166.46,146.73 L166.55,146.73 L166.64,146.73 L166.73,146.73 L166.82,146.73 L166.91,146.73 L167,146.73 L167.09,146.73 L167.18,146.73 L167.27,146.72 L167.36,146.72 L167.45,146.72 L167.54,146.72 L167.63,146.72 L167.72,146.72 L167.81,146.72 L167.9,146.72 L167.99,146.72 L168.08,146.72 L168.17,146.72 L168.26,146.72 L168.35,146.72 L168.44,146.72 L168.53,146.72 L168.62,146.71 L168.71,146.71 L168.8,146.71 L168.89,146.71 L168.98,146.71 L169.04,146.71 M175.51,146.67 L175.54,146.67 L175.63,146.67 L175.72,146.67 L175.81,146.67 L175.9,146.67 L175.99,146.67 L176.08,146.67 L176.17,146.67 L176.26,146.66 L176.35,146.66 L176.44,146.66 L176.53,146.66 L176.62,146.66 L176.71,146.66 L176.8,146.66 L176.89,146.66 L176.98,146.66 L177.07,146.66 L177.16,146.66 L177.25,146.66 L177.34,146.66 L177.43,146.66 L177.52,146.66 L177.61,146.66 L177.7,146.66 L177.79,146.66 L177.88,146.66 L177.97,146.66 L178.06,146.66 L178.15,146.65 L178.24,146.65 L178.33,146.65 L178.42,146.65 L178.51,146.65 L178.6,146.65 L178.69,146.65 L178.78,146.65 L178.87,146.65 L178.96,146.65 L179.05,146.65 L179.14,146.65 L179.23,146.65 L179.32,146.65 L179.41,146.65 L179.5,146.65 L179.59,146.65 L179.68,146.65 L179.77,146.65 L179.86,146.65 L179.95,146.65 L180.04,146.65 L180.13,146.65 L180.22,146.64 L180.31,146.64 L180.4,146.64 L180.49,146.64 L180.58,146.64 L180.67,146.64 L180.76,146.64 L180.85,146.64 L180.94,146.64 L181.03,146.64 L181.12,146.64 L181.21,146.64 L181.3,146.64 L181.39,146.64 L181.48,146.64 L181.57,146.64 L181.66,146.64 L181.75,146.64 L181.84,146.64 L181.93,146.64 L182.02,146.64 L182.11,146.64 L182.2,146.64 L182.29,146.64 L182.38,146.64 L182.47,146.64 L182.56,146.64 L182.65,146.64 L182.74,146.63 L182.83,146.63 L182.92,146.63 L183.01,146.63 L183.1,146.63 L183.19,146.63 L183.28,146.63 L183.37,146.63 L183.46,146.63 L183.55,146.63 L183.64,146.63 L183.73,146.63 L183.82,146.63 L183.91,146.63 L184,146.63 L184.09,146.63 L184.18,146.63 L184.27,146.63 L184.36,146.63 L184.45,146.63 L184.54,146.63 L184.63,146.63 L184.72,146.63 L184.81,146.63 L184.9,146.63 L184.99,146.63 L185.08,146.63 L185.17,146.63 L185.26,146.63 L185.31,146.63 M191.78,146.62 L191.82,146.62 L191.91,146.62 L192,146.62 L192.09,146.62 L192.18,146.62 L192.27,146.62 L192.36,146.62 L192.45,146.62 L192.54,146.62 L192.63,146.62 L192.72,146.62 L192.81,146.62 L192.9,146.62 L192.99,146.62 L193.08,146.62 L193.17,146.62 L193.26,146.62 L193.35,146.62 L193.44,146.62 L193.53,146.62 L193.62,146.62 L193.71,146.62 L193.8,146.62 L193.89,146.62 L193.98,146.62 L194.07,146.62 L194.16,146.62 L194.25,146.62 L194.34,146.62 L194.43,146.62 L194.52,146.62 L194.61,146.62 L194.7,146.62 L194.79,146.62 L194.88,146.62 L194.97,146.62 L195.06,146.62 L195.15,146.62 L195.24,146.62 L195.33,146.62 L195.42,146.62 L195.51,146.62 L195.6,146.62 L195.69,146.62 L195.77,146.62 L195.86,146.62 L195.95,146.62 L196.04,146.62 L196.13,146.62 L196.22,146.62 L196.31,146.62 L196.4,146.62 L196.49,146.62 L196.58,146.62 L196.67,146.62 L196.76,146.62 L196.85,146.62 L196.94,146.62 L197.03,146.62 L197.12,146.62 L197.21,146.62 L197.3,146.62 L197.39,146.62 L197.48,146.62 L197.57,146.62 L197.66,146.62 L197.75,146.62 L197.84,146.61 L197.93,146.61 L198.02,146.61 L198.11,146.61 L198.2,146.61 L198.29,146.61 L198.38,146.61 L198.47,146.61 L198.56,146.61 L198.65,146.61 L198.74,146.61 L198.83,146.61 L198.92,146.61 L199.01,146.61 L199.1,146.61 L199.19,146.61 L199.28,146.6 L199.37,146.6 L199.46,146.6 L199.55,146.6 L199.64,146.6 L199.73,146.6 L199.82,146.6 L199.91,146.6 L200,146.6 L200.09,146.59 L200.18,146.59 L200.27,146.59 L200.36,146.59 L200.45,146.59 L200.54,146.59 L200.63,146.58 L200.72,146.58 L200.81,146.58 L200.9,146.58 L200.99,146.58 L201.08,146.57 L201.17,146.57 L201.26,146.57 L201.35,146.57 L201.44,146.57 L201.53,146.56 L201.58,146.56 M208.05,146.12 L208.09,146.12 L208.18,146.11 L208.27,146.1 L208.36,146.08 L208.45,146.07 L208.54,146.06 L208.63,146.05 L208.72,146.04 L208.81,146.03 L208.9,146.01 L208.99,146 L209.08,145.99 L209.17,145.98 L209.26,145.97 L209.35,145.95 L209.44,145.94 L209.53,145.93 L209.62,145.91 L209.71,145.9 L209.8,145.89 L209.89,145.87 L209.98,145.86 L210.07,145.84 L210.16,145.83 L210.25,145.82 L210.34,145.8 L210.43,145.79 L210.52,145.77 L210.61,145.76 L210.7,145.74 L210.79,145.72 L210.88,145.71 L210.97,145.69 L211.06,145.68 L211.15,145.66 L211.24,145.64 L211.33,145.63 L211.42,145.61 L211.51,145.59 L211.6,145.58 L211.69,145.56 L211.78,145.54 L211.87,145.52 L211.96,145.51 L212.05,145.49 L212.14,145.47 L212.23,145.45 L212.32,145.43 L212.41,145.41 L212.5,145.39 L212.59,145.37 L212.68,145.35 L212.77,145.33 L212.86,145.31 L212.95,145.29 L213.04,145.27 L213.13,145.25 L213.22,145.23 L213.31,145.21 L213.4,145.19 L213.49,145.17 L213.58,145.15 L213.67,145.13 L213.76,145.1 L213.85,145.08 L213.94,145.06 L214.03,145.04 L214.12,145.01 L214.21,144.99 L214.3,144.97 L214.39,144.94 L214.48,144.92 L214.57,144.89 L214.66,144.87 L214.75,144.84 L214.84,144.82 L214.93,144.8 L215.02,144.77 L215.11,144.74 L215.2,144.72 L215.29,144.69 L215.38,144.67 L215.47,144.64 L215.56,144.61 L215.65,144.59 L215.74,144.56 L215.83,144.53 L215.92,144.5 L216.01,144.48 L216.1,144.45 L216.19,144.42 L216.28,144.39 L216.37,144.36 L216.46,144.33 L216.54,144.3 L216.63,144.27 L216.72,144.24 L216.81,144.21 L216.9,144.18 L216.99,144.15 L217.08,144.12 L217.17,144.09 L217.26,144.06 L217.35,144.03 L217.44,144 L217.53,143.96 L217.62,143.93 L217.71,143.9 L217.8,143.87 L217.85,143.85 M224.32,140.76 L224.37,140.73 L224.46,140.68 L224.55,140.63 L224.64,140.57 L224.73,140.52 L224.82,140.47 L224.91,140.41 L225,140.36 L225.09,140.3 L225.18,140.25 L225.27,140.19 L225.36,140.14 L225.45,140.08 L225.54,140.02 L225.63,139.97 L225.72,139.91 L225.81,139.85 L225.9,139.8 L225.99,139.74 L226.08,139.68 L226.17,139.62 L226.26,139.57 L226.35,139.51 L226.44,139.45 L226.53,139.39 L226.62,139.33 L226.71,139.27 L226.8,139.21 L226.88,139.15 L226.97,139.09 L227.06,139.03 L227.15,138.97 L227.24,138.91 L227.33,138.85 L227.42,138.78 L227.51,138.72 L227.6,138.66 L227.69,138.6 L227.78,138.53 L227.87,138.47 L227.96,138.41 L228.05,138.34 L228.14,138.28 L228.23,138.22 L228.32,138.15 L228.41,138.09 L228.5,138.02 L228.59,137.96 L228.68,137.89 L228.77,137.83 L228.86,137.76 L228.95,137.69 L229.04,137.63 L229.13,137.56 L229.22,137.49 L229.31,137.43 L229.4,137.36 L229.49,137.29 L229.58,137.22 L229.67,137.15 L229.76,137.09 L229.85,137.02 L229.94,136.95 L230.03,136.88 L230.12,136.81 L230.21,136.74 L230.3,136.67 L230.39,136.6 L230.48,136.53 L230.57,136.46 L230.66,136.38 L230.75,136.31 L230.84,136.24 L230.93,136.17 L231.02,136.1 L231.11,136.02 L231.2,135.95 L231.29,135.88 L231.38,135.8 L231.47,135.73 L231.56,135.66 L231.65,135.58 L231.74,135.51 L231.83,135.43 L231.92,135.36 L232.01,135.28 L232.1,135.21 L232.19,135.13 L232.28,135.06 L232.37,134.98 L232.46,134.9 L232.55,134.83 L232.64,134.75 L232.73,134.67 L232.82,134.59 L232.91,134.52 L233,134.44 L233.09,134.36 L233.18,134.28 L233.27,134.2 L233.36,134.12 L233.45,134.04 L233.54,133.96 L233.63,133.88 L233.72,133.8 L233.81,133.72 L233.9,133.64 L233.99,133.56 L234.08,133.48 L234.12,133.44 M240.4,127.1 L240.46,127.03 L240.55,126.93 L240.64,126.83 L240.73,126.73 L240.82,126.63 L240.91,126.53 L241,126.43 L241.09,126.32 L241.18,126.22 L241.27,126.12 L241.36,126.02 L241.45,125.91 L241.54,125.81 L241.63,125.71 L241.72,125.6 L241.81,125.5 L241.9,125.4 L241.99,125.29 L242.08,125.19 L242.17,125.08 L242.26,124.98 L242.35,124.87 L242.44,124.77 L242.53,124.66 L242.62,124.55 L242.71,124.45 L242.8,124.34 L242.89,124.23 L242.98,124.13 L243.07,124.02 L243.16,123.91 L243.25,123.8 L243.34,123.69 L243.43,123.59 L243.52,123.48 L243.61,123.37 L243.7,123.26 L243.79,123.15 L243.88,123.04 L243.97,122.93 L244.06,122.82 L244.15,122.71 L244.24,122.6 L244.33,122.49 L244.42,122.37 L244.51,122.26 L244.6,122.15 L244.69,122.04 L244.78,121.93 L244.87,121.81 L244.96,121.7 L245.05,121.59 L245.14,121.47 L245.23,121.36 L245.32,121.25 L245.41,121.13 L245.5,121.02 L245.59,120.9 L245.68,120.79 L245.77,120.67 L245.86,120.56 L245.95,120.44 L246.04,120.33 L246.13,120.21 L246.22,120.09 L246.31,119.98 L246.4,119.86 L246.49,119.74 L246.58,119.62 L246.67,119.51 L246.76,119.39 L246.85,119.27 L246.94,119.15 L247.03,119.03 L247.12,118.91 L247.21,118.79 L247.3,118.67 L247.39,118.55 L247.48,118.43 L247.57,118.31 L247.65,118.19 L247.74,118.07 L247.83,117.95 L247.92,117.83 L248.01,117.71 L248.1,117.59 L248.19,117.46 L248.28,117.34 L248.31,117.3 M252.83,110.83 L252.87,110.78 L252.96,110.64 L253.05,110.51 L253.14,110.37 L253.23,110.24 L253.32,110.1 L253.41,109.97 L253.5,109.83 L253.59,109.7 L253.68,109.56 L253.77,109.43 L253.86,109.29 L253.95,109.15 L254.04,109.02 L254.13,108.88 L254.22,108.74 L254.31,108.61 L254.4,108.47 L254.49,108.33 L254.58,108.2 L254.67,108.06 L254.76,107.92 L254.85,107.78 L254.94,107.64 L255.03,107.51 L255.12,107.37 L255.21,107.23 L255.3,107.09 L255.39,106.95 L255.48,106.81 L255.57,106.67 L255.66,106.53 L255.75,106.4 L255.84,106.26 L255.93,106.12 L256.02,105.98 L256.11,105.84 L256.2,105.7 L256.29,105.56 L256.38,105.42 L256.47,105.27 L256.56,105.13 L256.65,104.99 L256.74,104.85 L256.83,104.71 L256.92,104.57 L257.01,104.43 L257.1,104.29 L257.19,104.15 L257.28,104 L257.37,103.86 L257.46,103.72 L257.55,103.58 L257.64,103.44 L257.73,103.29 L257.82,103.15 L257.91,103.01 L257.99,102.87 L258.08,102.72 L258.17,102.58 L258.26,102.44 L258.35,102.3 L258.44,102.15 L258.53,102.01 L258.62,101.87 L258.71,101.72 L258.8,101.58 L258.89,101.44 L258.98,101.29 L259.07,101.15 L259.15,101.03 M263.15,94.56 L263.21,94.46 L263.3,94.31 L263.39,94.17 L263.48,94.02 L263.57,93.87 L263.66,93.73 L263.75,93.58 L263.84,93.43 L263.93,93.29 L264.02,93.14 L264.11,92.99 L264.2,92.85 L264.29,92.7 L264.38,92.55 L264.47,92.4 L264.56,92.26 L264.65,92.11 L264.74,91.96 L264.83,91.82 L264.92,91.67 L265.01,91.52 L265.1,91.37 L265.19,91.23 L265.28,91.08 L265.37,90.93 L265.46,90.78 L265.55,90.63 L265.64,90.49 L265.73,90.34 L265.82,90.19 L265.91,90.04 L266,89.89 L266.09,89.75 L266.18,89.6 L266.27,89.45 L266.36,89.3 L266.45,89.15 L266.54,89.01 L266.63,88.86 L266.72,88.71 L266.81,88.56 L266.9,88.41 L266.99,88.26 L267.08,88.11 L267.17,87.97 L267.26,87.82 L267.35,87.67 L267.44,87.52 L267.53,87.37 L267.62,87.22 L267.71,87.07 L267.8,86.92 L267.89,86.77 L267.98,86.63 L268.07,86.48 L268.16,86.33 L268.25,86.18 L268.33,86.03 L268.42,85.88 L268.51,85.73 L268.6,85.58 L268.69,85.43 L268.78,85.28 L268.87,85.13 L268.96,84.98 L269.05,84.83 L269.1,84.76 M272.95,78.29 L273.01,78.19 L273.1,78.04 L273.19,77.89 L273.28,77.73 L273.37,77.58 L273.46,77.43 L273.55,77.28 L273.64,77.12 L273.73,76.97 L273.82,76.82 L273.91,76.66 L274,76.51 L274.09,76.36 L274.18,76.21 L274.27,76.05 L274.36,75.9 L274.45,75.75 L274.54,75.59 L274.63,75.44 L274.72,75.29 L274.81,75.13 L274.9,74.98 L274.99,74.83 L275.08,74.67 L275.17,74.52 L275.26,74.37 L275.35,74.21 L275.44,74.06 L275.53,73.91 L275.62,73.75 L275.71,73.6 L275.8,73.44 L275.89,73.29 L275.98,73.14 L276.07,72.98 L276.16,72.83 L276.25,72.67 L276.34,72.52 L276.43,72.37 L276.52,72.21 L276.61,72.06 L276.7,71.9 L276.79,71.75 L276.88,71.59 L276.97,71.44 L277.06,71.28 L277.15,71.13 L277.24,70.97 L277.33,70.82 L277.42,70.66 L277.51,70.51 L277.6,70.35 L277.69,70.2 L277.78,70.04 L277.87,69.89 L277.96,69.73 L278.05,69.58 L278.14,69.42 L278.23,69.27 L278.32,69.11 L278.41,68.95 L278.5,68.8 L278.59,68.64 L278.67,68.49 M282.37,62.02 L282.45,61.88 L282.54,61.72 L282.63,61.56 L282.72,61.4 L282.81,61.25 L282.9,61.09 L282.99,60.93 L283.08,60.77 L283.17,60.61 L283.26,60.45 L283.35,60.29 L283.44,60.13 L283.53,59.97 L283.62,59.81 L283.71,59.65 L283.8,59.49 L283.89,59.33 L283.98,59.17 L284.07,59.01 L284.16,58.86 L284.25,58.7 L284.34,58.54 L284.43,58.37 L284.52,58.21 L284.61,58.05 L284.7,57.89 L284.79,57.73 L284.88,57.57 L284.97,57.41 L285.06,57.25 L285.15,57.09 L285.24,56.93 L285.33,56.77 L285.42,56.61 L285.51,56.45 L285.6,56.29 L285.69,56.13 L285.78,55.97 L285.87,55.8 L285.96,55.64 L286.05,55.48 L286.14,55.32 L286.23,55.16 L286.32,55 L286.41,54.84 L286.5,54.67 L286.59,54.51 L286.68,54.35 L286.77,54.19 L286.86,54.03 L286.95,53.86 L287.04,53.7 L287.13,53.54 L287.22,53.38 L287.31,53.22 L287.4,53.05 L287.49,52.89 L287.58,52.73 L287.67,52.57 L287.76,52.4 L287.85,52.24 L287.86,52.22 M291.4,45.75 L291.44,45.67 L291.53,45.51 L291.62,45.34 L291.71,45.17 L291.8,45.01 L291.89,44.84 L291.98,44.68 L292.07,44.51 L292.16,44.34 L292.25,44.18 L292.34,44.01 L292.43,43.84 L292.52,43.68 L292.61,43.51 L292.7,43.34 L292.79,43.18 L292.88,43.01 L292.97,42.84 L293.06,42.68 L293.15,42.51 L293.24,42.34 L293.33,42.17 L293.42,42.01 L293.51,41.84 L293.6,41.67 L293.69,41.5 L293.78,41.34 L293.87,41.17 L293.96,41 L294.05,40.83 L294.14,40.66 L294.23,40.5 L294.32,40.33 L294.41,40.16 L294.5,39.99 L294.59,39.82 L294.68,39.65 L294.77,39.49 L294.86,39.32 L294.95,39.15 L295.04,38.98 L295.13,38.81 L295.22,38.64 L295.31,38.47 L295.4,38.3 L295.49,38.14 L295.58,37.97 L295.67,37.8 L295.76,37.63 L295.85,37.46 L295.94,37.29 L296.03,37.12 L296.12,36.95 L296.21,36.78 L296.3,36.61 L296.39,36.44 L296.48,36.27 L296.57,36.1 L296.65,35.95 M300.03,29.48 L300.07,29.4 L300.16,29.23 L300.25,29.05 L300.34,28.88 L300.43,28.7 L300.52,28.53 L300.61,28.36 L300.7,28.18 L300.79,28.01 L300.88,27.83 L300.97,27.66 L301.06,27.49 L301.15,27.31 L301.24,27.14 L301.33,26.96 L301.42,26.79 L301.51,26.61 L301.6,26.44 L301.69,26.26 L301.78,26.09 L301.87,25.91 L301.96,25.74 L302.05,25.56 L302.14,25.39 L302.23,25.21 L302.32,25.04 L302.41,24.86 L302.5,24.69 L302.59,24.51 L302.68,24.33 L302.77,24.16 L302.86,23.98 L302.95,23.81 L303.04,23.63 L303.13,23.45 L303.22,23.28 L303.31,23.1 L303.4,22.92 L303.49,22.75 L303.58,22.57 L303.67,22.39 L303.76,22.22 L303.85,22.04 L303.94,21.86 L304.03,21.69 L304.12,21.51 L304.21,21.33 L304.3,21.15 L304.39,20.98 L304.48,20.8 L304.57,20.62 L304.66,20.44 L304.75,20.26 L304.84,20.09 L304.93,19.91 L305.02,19.73 L305.04,19.68 M308.28,13.21 L308.35,13.07 L308.44,12.89 L308.53,12.71 L308.62,12.53 L308.71,12.35 L308.8,12.17 L308.89,11.98 L308.98,11.8 L309.07,11.62 L309.16,11.44 L309.25,11.25 L309.34,11.07 L309.43,10.89 L309.52,10.71 L309.61,10.52 L309.7,10.34 L309.79,10.16 L309.87,9.97 L309.96,9.79 L310.05,9.61 L310.14,9.42 L310.23,9.24 L310.32,9.06 L310.41,8.87 L310.5,8.69 L310.59,8.51 L310.68,8.32 L310.77,8.14 L310.86,7.95 L310.95,7.77 L311.04,7.59 L311.13,7.4 L311.22,7.22 L311.31,7.03 L311.4,6.85 L311.49,6.66 L311.58,6.48 L311.67,6.29 L311.76,6.11 L311.85,5.92 L311.94,5.74 L312.03,5.55 L312.12,5.37 L312.21,5.18 L312.3,4.99 L312.39,4.81 L312.48,4.62 L312.57,4.44 L312.66,4.25 L312.75,4.06 L312.84,3.88 L312.93,3.69 L313.02,3.5 L313.07,3.41" stroke="#000" stroke-width="2.7" stroke-linecap="round"/>
    <path d="M45.35,304.97 L45.46,304.98 L45.58,304.98 L45.69,304.99 L45.8,305 L45.91,305 L46.03,305.01 L46.14,305.01 L46.25,305.02 L46.37,305.03 L46.48,305.03 L46.59,305.04 L46.71,305.05 L46.82,305.05 L46.93,305.06 L47.04,305.06 L47.16,305.07 L47.27,305.07 L47.38,305.08 L47.5,305.08 L47.61,305.09 L47.72,305.09 L47.83,305.1 L47.95,305.1 L48.06,305.11 L48.17,305.11 L48.29,305.12 L48.4,305.12 L48.51,305.12 L48.62,305.13 L48.74,305.13 L48.85,305.14 L48.96,305.14 L49.08,305.14 L49.19,305.15 L49.3,305.15 L49.42,305.15 L49.53,305.16 L49.64,305.16 L49.75,305.16 L49.87,305.17 L49.98,305.17 L50.09,305.17 L50.21,305.17 L50.32,305.18 L50.43,305.18 L50.54,305.18 L50.66,305.18 L50.77,305.18 L50.88,305.19 L51,305.19 L51.11,305.19 L51.22,305.19 L51.33,305.19 L51.45,305.19 L51.56,305.2 L51.67,305.2 L51.79,305.2 L51.9,305.2 L52.01,305.2 L52.13,305.2 L52.24,305.2 L52.35,305.2 L52.46,305.2 L52.58,305.2 L52.69,305.2 L52.8,305.2 L52.92,305.2 L53.03,305.2 L53.14,305.2 L53.25,305.2 L53.37,305.2 L53.48,305.2 L53.59,305.2 L53.71,305.2 L53.82,305.2 L53.93,305.2 L54.04,305.2 L54.16,305.2 L54.27,305.2 L54.38,305.2 L54.5,305.19 L54.61,305.19 L54.72,305.19 L54.84,305.19 L54.95,305.19 L55.06,305.19 L55.15,305.18 M61.62,304.9 L61.72,304.9 L61.84,304.89 L61.95,304.88 L62.06,304.87 L62.18,304.87 L62.29,304.86 L62.4,304.85 L62.51,304.84 L62.63,304.83 L62.74,304.82 L62.85,304.81 L62.97,304.81 L63.08,304.8 L63.19,304.79 L63.3,304.78 L63.42,304.77 L63.53,304.76 L63.64,304.75 L63.76,304.74 L63.87,304.73 L63.98,304.72 L64.09,304.71 L64.21,304.7 L64.32,304.69 L64.43,304.68 L64.55,304.67 L64.66,304.66 L64.77,304.65 L64.89,304.64 L65,304.63 L65.11,304.62 L65.22,304.61 L65.34,304.6 L65.45,304.58 L65.56,304.57 L65.68,304.56 L65.79,304.55 L65.9,304.54 L66.01,304.53 L66.13,304.52 L66.24,304.5 L66.35,304.49 L66.47,304.48 L66.58,304.47 L66.69,304.46 L66.8,304.44 L66.92,304.43 L67.03,304.42 L67.14,304.41 L67.26,304.39 L67.37,304.38 L67.48,304.37 L67.6,304.36 L67.71,304.34 L67.82,304.33 L67.93,304.32 L68.05,304.3 L68.16,304.29 L68.27,304.28 L68.39,304.26 L68.5,304.25 L68.61,304.24 L68.72,304.22 L68.84,304.21 L68.95,304.19 L69.06,304.18 L69.18,304.17 L69.29,304.15 L69.4,304.14 L69.52,304.12 L69.63,304.11 L69.74,304.09 L69.85,304.08 L69.97,304.06 L70.08,304.05 L70.19,304.03 L70.31,304.02 L70.42,304 L70.53,303.99 L70.64,303.97 L70.76,303.96 L70.87,303.94 L70.98,303.92 L71.1,303.91 L71.21,303.89 L71.32,303.88 L71.42,303.86 M77.89,302.78 L77.98,302.76 L78.1,302.74 L78.21,302.72 L78.32,302.7 L78.44,302.67 L78.55,302.65 L78.66,302.63 L78.77,302.61 L78.89,302.59 L79,302.56 L79.11,302.54 L79.23,302.52 L79.34,302.49 L79.45,302.47 L79.57,302.45 L79.68,302.43 L79.79,302.4 L79.9,302.38 L80.02,302.36 L80.13,302.33 L80.24,302.31 L80.36,302.29 L80.47,302.26 L80.58,302.24 L80.69,302.21 L80.81,302.19 L80.92,302.17 L81.03,302.14 L81.15,302.12 L81.26,302.09 L81.37,302.07 L81.48,302.05 L81.6,302.02 L81.71,302 L81.82,301.97 L81.94,301.95 L82.05,301.92 L82.16,301.9 L82.28,301.87 L82.39,301.85 L82.5,301.82 L82.61,301.8 L82.73,301.77 L82.84,301.74 L82.95,301.72 L83.07,301.69 L83.18,301.67 L83.29,301.64 L83.4,301.62 L83.52,301.59 L83.63,301.56 L83.74,301.54 L83.86,301.51 L83.97,301.48 L84.08,301.46 L84.19,301.43 L84.31,301.4 L84.42,301.38 L84.53,301.35 L84.65,301.32 L84.76,301.3 L84.87,301.27 L84.99,301.24 L85.1,301.21 L85.21,301.19 L85.32,301.16 L85.44,301.13 L85.55,301.1 L85.66,301.08 L85.78,301.05 L85.89,301.02 L86,300.99 L86.11,300.96 L86.23,300.94 L86.34,300.91 L86.45,300.88 L86.57,300.85 L86.68,300.82 L86.79,300.79 L86.9,300.76 L87.02,300.73 L87.13,300.71 L87.24,300.68 L87.36,300.65 L87.47,300.62 L87.58,300.59 L87.69,300.56 M94.16,298.73 L94.24,298.7 L94.36,298.67 L94.47,298.63 L94.58,298.6 L94.7,298.56 L94.81,298.53 L94.92,298.49 L95.04,298.46 L95.15,298.42 L95.26,298.39 L95.37,298.35 L95.49,298.32 L95.6,298.28 L95.71,298.24 L95.83,298.21 L95.94,298.17 L96.05,298.14 L96.16,298.1 L96.28,298.06 L96.39,298.03 L96.5,297.99 L96.62,297.96 L96.73,297.92 L96.84,297.88 L96.95,297.85 L97.07,297.81 L97.18,297.77 L97.29,297.74 L97.41,297.7 L97.52,297.66 L97.63,297.63 L97.75,297.59 L97.86,297.55 L97.97,297.51 L98.08,297.48 L98.2,297.44 L98.31,297.4 L98.42,297.36 L98.54,297.33 L98.65,297.29 L98.76,297.25 L98.87,297.21 L98.99,297.17 L99.1,297.14 L99.21,297.1 L99.33,297.06 L99.44,297.02 L99.55,296.98 L99.66,296.94 L99.78,296.9 L99.89,296.87 L100,296.83 L100.12,296.79 L100.23,296.75 L100.34,296.71 L100.46,296.67 L100.57,296.63 L100.68,296.59 L100.79,296.55 L100.91,296.51 L101.02,296.47 L101.13,296.43 L101.25,296.39 L101.36,296.35 L101.47,296.31 L101.58,296.27 L101.7,296.23 L101.81,296.19 L101.92,296.15 L102.04,296.11 L102.15,296.07 L102.26,296.03 L102.38,295.99 L102.49,295.95 L102.6,295.91 L102.71,295.87 L102.83,295.83 L102.94,295.79 L103.05,295.75 L103.17,295.7 L103.28,295.66 L103.39,295.62 L103.5,295.58 L103.62,295.54 L103.73,295.5 L103.84,295.46 L103.96,295.41 L103.96,295.41 M110.43,292.88 L110.51,292.85 L110.62,292.8 L110.73,292.76 L110.84,292.71 L110.96,292.66 L111.07,292.62 L111.18,292.57 L111.3,292.52 L111.41,292.47 L111.52,292.43 L111.63,292.38 L111.75,292.33 L111.86,292.29 L111.97,292.24 L112.09,292.19 L112.2,292.14 L112.31,292.09 L112.43,292.05 L112.54,292 L112.65,291.95 L112.76,291.9 L112.88,291.85 L112.99,291.81 L113.1,291.76 L113.22,291.71 L113.33,291.66 L113.44,291.61 L113.55,291.56 L113.67,291.52 L113.78,291.47 L113.89,291.42 L114.01,291.37 L114.12,291.32 L114.23,291.27 L114.34,291.22 L114.46,291.17 L114.57,291.12 L114.68,291.07 L114.8,291.02 L114.91,290.97 L115.02,290.92 L115.14,290.87 L115.25,290.82 L115.36,290.77 L115.47,290.72 L115.59,290.67 L115.7,290.62 L115.81,290.57 L115.93,290.52 L116.04,290.47 L116.15,290.42 L116.26,290.37 L116.38,290.32 L116.49,290.27 L116.6,290.22 L116.72,290.17 L116.83,290.12 L116.94,290.07 L117.05,290.02 L117.17,289.97 L117.28,289.91 L117.39,289.86 L117.51,289.81 L117.62,289.76 L117.73,289.71 L117.85,289.66 L117.96,289.61 L118.07,289.55 L118.18,289.5 L118.3,289.45 L118.41,289.4 L118.52,289.35 L118.64,289.29 L118.75,289.24 L118.86,289.19 L118.97,289.14 L119.09,289.08 L119.2,289.03 L119.31,288.98 L119.43,288.93 L119.54,288.87 L119.65,288.82 L119.76,288.77 L119.88,288.72 L119.99,288.66 L120.1,288.61 L120.22,288.56 L120.23,288.55 M126.7,285.37 L126.77,285.34 L126.88,285.28 L126.99,285.23 L127.1,285.17 L127.22,285.11 L127.33,285.05 L127.44,284.99 L127.56,284.94 L127.67,284.88 L127.78,284.82 L127.9,284.76 L128.01,284.7 L128.12,284.64 L128.23,284.59 L128.35,284.53 L128.46,284.47 L128.57,284.41 L128.69,284.35 L128.8,284.29 L128.91,284.23 L129.02,284.17 L129.14,284.12 L129.25,284.06 L129.36,284 L129.48,283.94 L129.59,283.88 L129.7,283.82 L129.81,283.76 L129.93,283.7 L130.04,283.64 L130.15,283.58 L130.27,283.52 L130.38,283.46 L130.49,283.4 L130.61,283.34 L130.72,283.28 L130.83,283.22 L130.94,283.16 L131.06,283.1 L131.17,283.04 L131.28,282.98 L131.4,282.92 L131.51,282.86 L131.62,282.8 L131.73,282.74 L131.85,282.68 L131.96,282.61 L132.07,282.55 L132.19,282.49 L132.3,282.43 L132.41,282.37 L132.52,282.31 L132.64,282.25 L132.75,282.19 L132.86,282.12 L132.98,282.06 L133.09,282 L133.2,281.94 L133.32,281.88 L133.43,281.82 L133.54,281.75 L133.65,281.69 L133.77,281.63 L133.88,281.57 L133.99,281.51 L134.11,281.44 L134.22,281.38 L134.33,281.32 L134.44,281.26 L134.56,281.19 L134.67,281.13 L134.78,281.07 L134.9,281.01 L135.01,280.94 L135.12,280.88 L135.24,280.82 L135.35,280.75 L135.46,280.69 L135.57,280.63 L135.69,280.57 L135.8,280.5 L135.91,280.44 L136.03,280.38 L136.14,280.31 L136.25,280.25 L136.36,280.18 L136.48,280.12 L136.5,280.11 M142.97,276.34 L143.03,276.31 L143.14,276.24 L143.25,276.17 L143.37,276.1 L143.48,276.04 L143.59,275.97 L143.7,275.9 L143.82,275.83 L143.93,275.76 L144.04,275.7 L144.16,275.63 L144.27,275.56 L144.38,275.49 L144.49,275.42 L144.61,275.35 L144.72,275.28 L144.83,275.22 L144.95,275.15 L145.06,275.08 L145.17,275.01 L145.29,274.94 L145.4,274.87 L145.51,274.8 L145.62,274.73 L145.74,274.66 L145.85,274.59 L145.96,274.52 L146.08,274.46 L146.19,274.39 L146.3,274.32 L146.41,274.25 L146.53,274.18 L146.64,274.11 L146.75,274.04 L146.87,273.97 L146.98,273.9 L147.09,273.83 L147.2,273.76 L147.32,273.69 L147.43,273.62 L147.54,273.55 L147.66,273.48 L147.77,273.41 L147.88,273.33 L148,273.26 L148.11,273.19 L148.22,273.12 L148.33,273.05 L148.45,272.98 L148.56,272.91 L148.67,272.84 L148.79,272.77 L148.9,272.7 L149.01,272.63 L149.12,272.55 L149.24,272.48 L149.35,272.41 L149.46,272.34 L149.58,272.27 L149.69,272.2 L149.8,272.13 L149.91,272.05 L150.03,271.98 L150.14,271.91 L150.25,271.84 L150.37,271.77 L150.48,271.7 L150.59,271.62 L150.71,271.55 L150.82,271.48 L150.93,271.41 L151.04,271.34 L151.16,271.26 L151.27,271.19 L151.38,271.12 L151.5,271.05 L151.61,270.97 L151.72,270.9 L151.83,270.83 L151.95,270.75 L152.06,270.68 L152.17,270.61 L152.29,270.54 L152.4,270.46 L152.51,270.39 L152.62,270.32 L152.74,270.24 L152.77,270.22 M159.24,265.94 L159.29,265.91 L159.4,265.83 L159.51,265.76 L159.63,265.68 L159.74,265.61 L159.85,265.53 L159.96,265.45 L160.08,265.38 L160.19,265.3 L160.3,265.22 L160.42,265.15 L160.53,265.07 L160.64,264.99 L160.76,264.92 L160.87,264.84 L160.98,264.76 L161.09,264.69 L161.21,264.61 L161.32,264.53 L161.43,264.45 L161.55,264.38 L161.66,264.3 L161.77,264.22 L161.88,264.15 L162,264.07 L162.11,263.99 L162.22,263.91 L162.34,263.84 L162.45,263.76 L162.56,263.68 L162.67,263.6 L162.79,263.53 L162.9,263.45 L163.01,263.37 L163.13,263.29 L163.24,263.21 L163.35,263.14 L163.47,263.06 L163.58,262.98 L163.69,262.9 L163.8,262.83 L163.92,262.75 L164.03,262.67 L164.14,262.59 L164.26,262.51 L164.37,262.44 L164.48,262.36 L164.59,262.28 L164.71,262.2 L164.82,262.12 L164.93,262.04 L165.05,261.97 L165.16,261.89 L165.27,261.81 L165.38,261.73 L165.5,261.65 L165.61,261.57 L165.72,261.49 L165.84,261.42 L165.95,261.34 L166.06,261.26 L166.18,261.18 L166.29,261.1 L166.4,261.02 L166.51,260.94 L166.63,260.86 L166.74,260.78 L166.85,260.71 L166.97,260.63 L167.08,260.55 L167.19,260.47 L167.3,260.39 L167.42,260.31 L167.53,260.23 L167.64,260.15 L167.76,260.07 L167.87,259.99 L167.98,259.91 L168.1,259.83 L168.21,259.75 L168.32,259.67 L168.43,259.59 L168.55,259.52 L168.66,259.44 L168.77,259.36 L168.89,259.28 L169,259.2 L169.04,259.17 M175.51,254.55 L175.55,254.52 L175.66,254.44 L175.77,254.36 L175.89,254.27 L176,254.19 L176.11,254.11 L176.23,254.03 L176.34,253.95 L176.45,253.87 L176.56,253.79 L176.68,253.7 L176.79,253.62 L176.9,253.54 L177.02,253.46 L177.13,253.38 L177.24,253.29 L177.35,253.21 L177.47,253.13 L177.58,253.05 L177.69,252.97 L177.81,252.89 L177.92,252.8 L178.03,252.72 L178.15,252.64 L178.26,252.56 L178.37,252.48 L178.48,252.39 L178.6,252.31 L178.71,252.23 L178.82,252.15 L178.94,252.06 L179.05,251.98 L179.16,251.9 L179.27,251.82 L179.39,251.74 L179.5,251.65 L179.61,251.57 L179.73,251.49 L179.84,251.41 L179.95,251.32 L180.06,251.24 L180.18,251.16 L180.29,251.08 L180.4,251 L180.52,250.91 L180.63,250.83 L180.74,250.75 L180.86,250.67 L180.97,250.58 L181.08,250.5 L181.19,250.42 L181.31,250.34 L181.42,250.25 L181.53,250.17 L181.65,250.09 L181.76,250.01 L181.87,249.92 L181.98,249.84 L182.1,249.76 L182.21,249.67 L182.32,249.59 L182.44,249.51 L182.55,249.43 L182.66,249.34 L182.77,249.26 L182.89,249.18 L183,249.1 L183.11,249.01 L183.23,248.93 L183.34,248.85 L183.45,248.76 L183.57,248.68 L183.68,248.6 L183.79,248.52 L183.9,248.43 L184.02,248.35 L184.13,248.27 L184.24,248.18 L184.36,248.1 L184.47,248.02 L184.58,247.94 L184.69,247.85 L184.81,247.77 L184.92,247.69 L185.03,247.6 L185.15,247.52 L185.26,247.44 L185.31,247.4 M191.78,242.63 L191.81,242.61 L191.92,242.53 L192.03,242.44 L192.15,242.36 L192.26,242.28 L192.37,242.19 L192.49,242.11 L192.6,242.02 L192.71,241.94 L192.82,241.86 L192.94,241.77 L193.05,241.69 L193.16,241.61 L193.28,241.52 L193.39,241.44 L193.5,241.36 L193.62,241.27 L193.73,241.19 L193.84,241.11 L193.95,241.02 L194.07,240.94 L194.18,240.86 L194.29,240.77 L194.41,240.69 L194.52,240.61 L194.63,240.52 L194.74,240.44 L194.86,240.36 L194.97,240.27 L195.08,240.19 L195.2,240.11 L195.31,240.02 L195.42,239.94 L195.53,239.86 L195.65,239.77 L195.76,239.69 L195.87,239.61 L195.99,239.52 L196.1,239.44 L196.21,239.36 L196.33,239.27 L196.44,239.19 L196.55,239.11 L196.66,239.02 L196.78,238.94 L196.89,238.86 L197,238.77 L197.12,238.69 L197.23,238.61 L197.34,238.52 L197.45,238.44 L197.57,238.36 L197.68,238.27 L197.79,238.19 L197.91,238.11 L198.02,238.02 L198.13,237.94 L198.24,237.86 L198.36,237.77 L198.47,237.69 L198.58,237.61 L198.7,237.52 L198.81,237.44 L198.92,237.36 L199.04,237.27 L199.15,237.19 L199.26,237.11 L199.37,237.02 L199.49,236.94 L199.6,236.86 L199.71,236.77 L199.83,236.69 L199.94,236.61 L200.05,236.52 L200.16,236.44 L200.28,236.36 L200.39,236.28 L200.5,236.19 L200.62,236.11 L200.73,236.03 L200.84,235.94 L200.96,235.86 L201.07,235.78 L201.18,235.69 L201.29,235.61 L201.41,235.53 L201.52,235.44 L201.58,235.4 M208.05,230.67 L208.07,230.65 L208.18,230.57 L208.29,230.49 L208.41,230.41 L208.52,230.33 L208.63,230.24 L208.75,230.16 L208.86,230.08 L208.97,230 L209.09,229.92 L209.2,229.84 L209.31,229.75 L209.42,229.67 L209.54,229.59 L209.65,229.51 L209.76,229.43 L209.88,229.34 L209.99,229.26 L210.1,229.18 L210.21,229.1 L210.33,229.02 L210.44,228.94 L210.55,228.85 L210.67,228.77 L210.78,228.69 L210.89,228.61 L211.01,228.53 L211.12,228.45 L211.23,228.37 L211.34,228.28 L211.46,228.2 L211.57,228.12 L211.68,228.04 L211.8,227.96 L211.91,227.88 L212.02,227.8 L212.13,227.72 L212.25,227.63 L212.36,227.55 L212.47,227.47 L212.59,227.39 L212.7,227.31 L212.81,227.23 L212.92,227.15 L213.04,227.07 L213.15,226.99 L213.26,226.9 L213.38,226.82 L213.49,226.74 L213.6,226.66 L213.72,226.58 L213.83,226.5 L213.94,226.42 L214.05,226.34 L214.17,226.26 L214.28,226.18 L214.39,226.1 L214.51,226.02 L214.62,225.94 L214.73,225.85 L214.84,225.77 L214.96,225.69 L215.07,225.61 L215.18,225.53 L215.3,225.45 L215.41,225.37 L215.52,225.29 L215.63,225.21 L215.75,225.13 L215.86,225.05 L215.97,224.97 L216.09,224.89 L216.2,224.81 L216.31,224.73 L216.43,224.65 L216.54,224.57 L216.65,224.49 L216.76,224.41 L216.88,224.33 L216.99,224.25 L217.1,224.17 L217.22,224.09 L217.33,224.01 L217.44,223.93 L217.55,223.85 L217.67,223.77 L217.78,223.69 L217.85,223.64 M224.32,219.14 L224.33,219.13 L224.44,219.06 L224.56,218.98 L224.67,218.9 L224.78,218.82 L224.89,218.75 L225.01,218.67 L225.12,218.59 L225.23,218.51 L225.35,218.44 L225.46,218.36 L225.57,218.28 L225.68,218.21 L225.8,218.13 L225.91,218.05 L226.02,217.98 L226.14,217.9 L226.25,217.82 L226.36,217.75 L226.48,217.67 L226.59,217.59 L226.7,217.52 L226.81,217.44 L226.93,217.36 L227.04,217.29 L227.15,217.21 L227.27,217.14 L227.38,217.06 L227.49,216.98 L227.6,216.91 L227.72,216.83 L227.83,216.75 L227.94,216.68 L228.06,216.6 L228.17,216.53 L228.28,216.45 L228.39,216.38 L228.51,216.3 L228.62,216.22 L228.73,216.15 L228.85,216.07 L228.96,216 L229.07,215.92 L229.19,215.85 L229.3,215.77 L229.41,215.7 L229.52,215.62 L229.64,215.55 L229.75,215.47 L229.86,215.39 L229.98,215.32 L230.09,215.24 L230.2,215.17 L230.31,215.09 L230.43,215.02 L230.54,214.95 L230.65,214.87 L230.77,214.8 L230.88,214.72 L230.99,214.65 L231.11,214.57 L231.22,214.5 L231.33,214.42 L231.44,214.35 L231.56,214.27 L231.67,214.2 L231.78,214.13 L231.9,214.05 L232.01,213.98 L232.12,213.9 L232.23,213.83 L232.35,213.76 L232.46,213.68 L232.57,213.61 L232.69,213.53 L232.8,213.46 L232.91,213.39 L233.02,213.31 L233.14,213.24 L233.25,213.17 L233.36,213.09 L233.48,213.02 L233.59,212.95 L233.7,212.87 L233.82,212.8 L233.93,212.73 L234.04,212.65 L234.12,212.6 M240.59,208.52 L240.59,208.52 L240.7,208.45 L240.82,208.38 L240.93,208.31 L241.04,208.24 L241.15,208.17 L241.27,208.1 L241.38,208.03 L241.49,207.96 L241.61,207.89 L241.72,207.83 L241.83,207.76 L241.95,207.69 L242.06,207.62 L242.17,207.55 L242.28,207.48 L242.4,207.41 L242.51,207.35 L242.62,207.28 L242.74,207.21 L242.85,207.14 L242.96,207.07 L243.07,207.01 L243.19,206.94 L243.3,206.87 L243.41,206.8 L243.53,206.73 L243.64,206.67 L243.75,206.6 L243.87,206.53 L243.98,206.46 L244.09,206.4 L244.2,206.33 L244.32,206.26 L244.43,206.2 L244.54,206.13 L244.66,206.06 L244.77,205.99 L244.88,205.93 L244.99,205.86 L245.11,205.79 L245.22,205.73 L245.33,205.66 L245.45,205.59 L245.56,205.53 L245.67,205.46 L245.78,205.39 L245.9,205.33 L246.01,205.26 L246.12,205.2 L246.24,205.13 L246.35,205.06 L246.46,205 L246.58,204.93 L246.69,204.87 L246.8,204.8 L246.91,204.74 L247.03,204.67 L247.14,204.6 L247.25,204.54 L247.37,204.47 L247.48,204.41 L247.59,204.34 L247.7,204.28 L247.82,204.21 L247.93,204.15 L248.04,204.08 L248.16,204.02 L248.27,203.95 L248.38,203.89 L248.49,203.82 L248.61,203.76 L248.72,203.7 L248.83,203.63 L248.95,203.57 L249.06,203.5 L249.17,203.44 L249.29,203.37 L249.4,203.31 L249.51,203.25 L249.62,203.18 L249.74,203.12 L249.85,203.05 L249.96,202.99 L250.08,202.93 L250.19,202.86 L250.3,202.8 L250.39,202.75 M256.86,199.23 L256.96,199.17 L257.08,199.11 L257.19,199.06 L257.3,199 L257.42,198.94 L257.53,198.88 L257.64,198.82 L257.75,198.76 L257.87,198.7 L257.98,198.64 L258.09,198.58 L258.21,198.52 L258.32,198.47 L258.43,198.41 L258.54,198.35 L258.66,198.29 L258.77,198.23 L258.88,198.17 L259,198.12 L259.11,198.06 L259.22,198 L259.34,197.94 L259.45,197.88 L259.56,197.83 L259.67,197.77 L259.79,197.71 L259.9,197.65 L260.01,197.59 L260.13,197.54 L260.24,197.48 L260.35,197.42 L260.46,197.36 L260.58,197.31 L260.69,197.25 L260.8,197.19 L260.92,197.14 L261.03,197.08 L261.14,197.02 L261.25,196.97 L261.37,196.91 L261.48,196.85 L261.59,196.8 L261.71,196.74 L261.82,196.68 L261.93,196.63 L262.05,196.57 L262.16,196.51 L262.27,196.46 L262.38,196.4 L262.5,196.34 L262.61,196.29 L262.72,196.23 L262.84,196.18 L262.95,196.12 L263.06,196.06 L263.17,196.01 L263.29,195.95 L263.4,195.9 L263.51,195.84 L263.63,195.79 L263.74,195.73 L263.85,195.68 L263.97,195.62 L264.08,195.57 L264.19,195.51 L264.3,195.46 L264.42,195.4 L264.53,195.35 L264.64,195.29 L264.76,195.24 L264.87,195.18 L264.98,195.13 L265.09,195.07 L265.21,195.02 L265.32,194.96 L265.43,194.91 L265.55,194.85 L265.66,194.8 L265.77,194.75 L265.88,194.69 L266,194.64 L266.11,194.58 L266.22,194.53 L266.34,194.48 L266.45,194.42 L266.56,194.37 L266.66,194.32 M273.13,191.36 L273.22,191.32 L273.34,191.27 L273.45,191.22 L273.56,191.17 L273.68,191.12 L273.79,191.07 L273.9,191.02 L274.01,190.97 L274.13,190.93 L274.24,190.88 L274.35,190.83 L274.47,190.78 L274.58,190.73 L274.69,190.68 L274.81,190.63 L274.92,190.58 L275.03,190.53 L275.14,190.49 L275.26,190.44 L275.37,190.39 L275.48,190.34 L275.6,190.29 L275.71,190.24 L275.82,190.2 L275.93,190.15 L276.05,190.1 L276.16,190.05 L276.27,190 L276.39,189.96 L276.5,189.91 L276.61,189.86 L276.73,189.81 L276.84,189.76 L276.95,189.72 L277.06,189.67 L277.18,189.62 L277.29,189.58 L277.4,189.53 L277.52,189.48 L277.63,189.43 L277.74,189.39 L277.85,189.34 L277.97,189.29 L278.08,189.25 L278.19,189.2 L278.31,189.15 L278.42,189.11 L278.53,189.06 L278.64,189.01 L278.76,188.97 L278.87,188.92 L278.98,188.87 L279.1,188.83 L279.21,188.78 L279.32,188.73 L279.44,188.69 L279.55,188.64 L279.66,188.6 L279.77,188.55 L279.89,188.5 L280,188.46 L280.11,188.41 L280.23,188.37 L280.34,188.32 L280.45,188.28 L280.56,188.23 L280.68,188.19 L280.79,188.14 L280.9,188.09 L281.02,188.05 L281.13,188 L281.24,187.96 L281.35,187.91 L281.47,187.87 L281.58,187.82 L281.69,187.78 L281.81,187.74 L281.92,187.69 L282.03,187.65 L282.15,187.6 L282.26,187.56 L282.37,187.51 L282.48,187.47 L282.6,187.42 L282.71,187.38 L282.82,187.34 L282.93,187.29 M289.4,184.88 L289.49,184.85 L289.6,184.81 L289.71,184.77 L289.82,184.73 L289.94,184.69 L290.05,184.65 L290.16,184.61 L290.28,184.57 L290.39,184.53 L290.5,184.49 L290.61,184.45 L290.73,184.41 L290.84,184.37 L290.95,184.33 L291.07,184.29 L291.18,184.25 L291.29,184.21 L291.4,184.17 L291.52,184.13 L291.63,184.09 L291.74,184.05 L291.86,184.02 L291.97,183.98 L292.08,183.94 L292.2,183.9 L292.31,183.86 L292.42,183.82 L292.53,183.78 L292.65,183.74 L292.76,183.71 L292.87,183.67 L292.99,183.63 L293.1,183.59 L293.21,183.55 L293.32,183.51 L293.44,183.48 L293.55,183.44 L293.66,183.4 L293.78,183.36 L293.89,183.32 L294,183.29 L294.11,183.25 L294.23,183.21 L294.34,183.17 L294.45,183.14 L294.57,183.1 L294.68,183.06 L294.79,183.02 L294.91,182.99 L295.02,182.95 L295.13,182.91 L295.24,182.88 L295.36,182.84 L295.47,182.8 L295.58,182.77 L295.7,182.73 L295.81,182.69 L295.92,182.66 L296.03,182.62 L296.15,182.58 L296.26,182.55 L296.37,182.51 L296.49,182.47 L296.6,182.44 L296.71,182.4 L296.83,182.36 L296.94,182.33 L297.05,182.29 L297.16,182.26 L297.28,182.22 L297.39,182.18 L297.5,182.15 L297.62,182.11 L297.73,182.08 L297.84,182.04 L297.95,182.01 L298.07,181.97 L298.18,181.94 L298.29,181.9 L298.41,181.86 L298.52,181.83 L298.63,181.79 L298.74,181.76 L298.86,181.72 L298.97,181.69 L299.08,181.65 L299.2,181.62 L299.2,181.62 M305.67,179.73 L305.75,179.71 L305.86,179.68 L305.97,179.64 L306.08,179.61 L306.2,179.58 L306.31,179.55 L306.42,179.52 L306.54,179.49 L306.65,179.46 L306.76,179.43 L306.87,179.4 L306.99,179.37 L307.1,179.34 L307.21,179.31 L307.33,179.28 L307.44,179.25 L307.55,179.22 L307.67,179.19 L307.78,179.16 L307.89,179.13 L308,179.1 L308.12,179.07 L308.23,179.04 L308.34,179.01 L308.46,178.98 L308.57,178.95 L308.68,178.92 L308.79,178.89 L308.91,178.86 L309.02,178.83 L309.13,178.8 L309.25,178.77 L309.36,178.74 L309.47,178.71 L309.59,178.68 L309.7,178.65 L309.81,178.63 L309.92,178.6 L310.04,178.57 L310.15,178.54 L310.26,178.51 L310.38,178.48 L310.49,178.45 L310.6,178.42 L310.71,178.4 L310.83,178.37 L310.94,178.34 L311.05,178.31 L311.17,178.28 L311.28,178.25 L311.39,178.23 L311.5,178.2 L311.62,178.17 L311.73,178.14 L311.84,178.11 L311.96,178.09 L312.07,178.06 L312.18,178.03 L312.3,178 L312.41,177.98 L312.52,177.95 L312.63,177.92 L312.75,177.89 L312.86,177.87 L312.97,177.84 L313.09,177.81 L313.2,177.79 L313.31,177.76 L313.42,177.73 L313.54,177.7 L313.65,177.68 L313.76,177.65 L313.88,177.62 L313.99,177.6 L314.1,177.57 L314.21,177.54 L314.33,177.52 L314.44,177.49 L314.55,177.46 L314.67,177.44 L314.78,177.41 L314.89,177.39 L315.01,177.36 L315.12,177.33 L315.23,177.31 L315.34,177.28 L315.46,177.26 L315.47,177.25 M321.94,175.87 L322.01,175.86 L322.12,175.84 L322.23,175.81 L322.35,175.79 L322.46,175.77 L322.57,175.75 L322.68,175.73 L322.8,175.7 L322.91,175.68 L323.02,175.66 L323.14,175.64 L323.25,175.62 L323.36,175.59 L323.47,175.57 L323.59,175.55 L323.7,175.53 L323.81,175.51 L323.93,175.49 L324.04,175.47 L324.15,175.44 L324.26,175.42 L324.38,175.4 L324.49,175.38 L324.6,175.36 L324.72,175.34 L324.83,175.32 L324.94,175.3 L325.06,175.28 L325.17,175.26 L325.28,175.24 L325.39,175.22 L325.51,175.19 L325.62,175.17 L325.73,175.15 L325.85,175.13 L325.96,175.11 L326.07,175.09 L326.18,175.07 L326.3,175.05 L326.41,175.03 L326.52,175.01 L326.64,174.99 L326.75,174.97 L326.86,174.95 L326.97,174.93 L327.09,174.91 L327.2,174.89 L327.31,174.87 L327.43,174.86 L327.54,174.84 L327.65,174.82 L327.77,174.8 L327.88,174.78 L327.99,174.76 L328.1,174.74 L328.22,174.72 L328.33,174.7 L328.44,174.68 L328.56,174.66 L328.67,174.64 L328.78,174.63 L328.89,174.61 L329.01,174.59 L329.12,174.57 L329.23,174.55 L329.35,174.53 L329.46,174.51 L329.57,174.5 L329.69,174.48 L329.8,174.46 L329.91,174.44 L330.02,174.42 L330.14,174.4 L330.25,174.39 L330.36,174.37 L330.48,174.35 L330.59,174.33 L330.7,174.32 L330.81,174.3 L330.93,174.28 L331.04,174.26 L331.15,174.24 L331.27,174.23 L331.38,174.21 L331.49,174.19 L331.6,174.18 L331.72,174.16 L331.74,174.15 M338.21,173.26 L338.27,173.26 L338.38,173.24 L338.49,173.23 L338.61,173.22 L338.72,173.2 L338.83,173.19 L338.94,173.18 L339.06,173.16 L339.17,173.15 L339.28,173.14 L339.4,173.12 L339.51,173.11 L339.62,173.1 L339.73,173.08 L339.85,173.07 L339.96,173.06 L340.07,173.04 L340.19,173.03 L340.3,173.02 L340.41,173.01 L340.53,172.99 L340.64,172.98 L340.75,172.97 L340.86,172.95 L340.98,172.94 L341.09,172.93 L341.2,172.92 L341.32,172.91 L341.43,172.89 L341.54,172.88 L341.65,172.87 L341.77,172.86 L341.88,172.84 L341.99,172.83 L342.11,172.82 L342.22,172.81 L342.33,172.8 L342.45,172.79 L342.56,172.77 L342.67,172.76 L342.78,172.75 L342.9,172.74 L343.01,172.73 L343.12,172.72 L343.24,172.7 L343.35,172.69 L343.46,172.68 L343.57,172.67 L343.69,172.66 L343.8,172.65 L343.91,172.64 L344.03,172.63 L344.14,172.62 L344.25,172.61 L344.36,172.59 L344.48,172.58 L344.59,172.57 L344.7,172.56 L344.82,172.55 L344.93,172.54 L345.04,172.53 L345.16,172.52 L345.27,172.51 L345.38,172.5 L345.49,172.49 L345.61,172.48 L345.72,172.47 L345.83,172.46 L345.95,172.45 L346.06,172.44 L346.17,172.43 L346.28,172.42 L346.4,172.41 L346.51,172.4 L346.62,172.39 L346.74,172.38 L346.85,172.37 L346.96,172.36 L347.07,172.35 L347.19,172.34 L347.3,172.34 L347.41,172.33 L347.53,172.32 L347.64,172.31 L347.75,172.3 L347.87,172.29 L347.98,172.28 L348.01,172.28 M354.48,171.86 L354.53,171.86 L354.64,171.86 L354.75,171.85 L354.87,171.84 L354.98,171.84 L355.09,171.83 L355.21,171.83 L355.32,171.82 L355.43,171.82 L355.54,171.81 L355.66,171.81 L355.77,171.8 L355.88,171.8 L356,171.79 L356.11,171.79 L356.22,171.78 L356.33,171.78 L356.45,171.77 L356.56,171.77 L356.67,171.76 L356.79,171.76 L356.9,171.75 L357.01,171.75 L357.12,171.75 L357.24,171.74 L357.35,171.74 L357.46,171.73 L357.58,171.73 L357.69,171.73 L357.8,171.72 L357.92,171.72 L358.03,171.71 L358.14,171.71 L358.25,171.71 L358.37,171.7 L358.48,171.7 L358.59,171.69 L358.71,171.69 L358.82,171.69 L358.93,171.68 L359.04,171.68 L359.16,171.68 L359.27,171.67 L359.38,171.67 L359.5,171.67 L359.61,171.66 L359.72,171.66 L359.83,171.66 L359.95,171.66 L360.06,171.65 L360.17,171.65 L360.29,171.65 L360.4,171.64 L360.51,171.64 L360.63,171.64 L360.74,171.64 L360.85,171.63 L360.96,171.63 L361.08,171.63 L361.19,171.63 L361.3,171.62 L361.42,171.62 L361.53,171.62 L361.64,171.62 L361.75,171.61 L361.87,171.61 L361.98,171.61 L362.09,171.61 L362.21,171.61 L362.32,171.61 L362.43,171.6 L362.55,171.6 L362.66,171.6 L362.77,171.6 L362.88,171.6 L363,171.6 L363.11,171.59 L363.22,171.59 L363.34,171.59 L363.45,171.59 L363.56,171.59 L363.67,171.59 L363.79,171.59 L363.9,171.59 L364.01,171.58 L364.13,171.58 L364.24,171.58 L364.28,171.58 M370.75,171.62 L370.79,171.62 L370.9,171.63 L371.01,171.63 L371.13,171.63 L371.24,171.63 L371.35,171.64 L371.47,171.64 L371.58,171.64 L371.69,171.64 L371.8,171.65 L371.92,171.65 L372.03,171.65 L372.14,171.66 L372.26,171.66 L372.37,171.66 L372.48,171.66 L372.59,171.67 L372.71,171.67 L372.82,171.67 L372.93,171.68 L373.05,171.68 L373.16,171.68 L373.27,171.69 L373.39,171.69 L373.5,171.69 L373.61,171.7 L373.72,171.7 L373.84,171.71 L373.95,171.71 L374.06,171.71 L374.18,171.72 L374.29,171.72 L374.4,171.72 L374.51,171.73 L374.63,171.73 L374.74,171.74 L374.85,171.74 L374.97,171.75 L375.08,171.75 L375.19,171.75 L375.31,171.76 L375.42,171.76 L375.53,171.77 L375.64,171.77 L375.76,171.78 L375.87,171.78 L375.98,171.79 L376.1,171.79 L376.21,171.8 L376.32,171.8 L376.43,171.81 L376.55,171.81 L376.66,171.82 L376.77,171.82 L376.89,171.83 L377,171.83 L377.11,171.84 L377.22,171.84 L377.34,171.85 L377.45,171.85 L377.56,171.86 L377.68,171.86 L377.79,171.87 L377.9,171.87 L378.02,171.88 L378.13,171.89 L378.24,171.89 L378.35,171.9 L378.47,171.9 L378.58,171.91 L378.69,171.92 L378.81,171.92 L378.92,171.93 L379.03,171.93 L379.14,171.94 L379.26,171.95 L379.37,171.95 L379.48,171.96 L379.6,171.97 L379.71,171.97 L379.82,171.98 L379.93,171.98 L380.05,171.99 L380.16,172 L380.27,172 L380.39,172.01 L380.5,172.02 L380.55,172.02" stroke="#000" stroke-width="2.7" stroke-linecap="round"/>
    <path d="M248.2,124.5 L250.9,115.3 L253.6,124.5" stroke="#ff0000" stroke-width="1.6" stroke-linejoin="round"/>
    <path d="M289.7,119.4 V149" stroke="#ff0000" stroke-width="1.6"/>
    <path d="M286.6,138.3 L289.7,148.9 L292.8,138.3" stroke="#ff0000" stroke-width="1.6" stroke-linejoin="round"/>
    <path d="M289.9,200.9 V171.5" stroke="#ff0000" stroke-width="1.6"/>
    <path d="M287,181.6 L289.9,171.3 L293,181.6" stroke="#ff0000" stroke-width="1.6" stroke-linejoin="round"/>
  </g>
  <line x1="45.5" y1="213.4" x2="381.5" y2="213.4" stroke="#000" stroke-width="3.1" stroke-linecap="round" stroke-dasharray="0 5.07"/>
  <!-- Panel B -->
  <rect x="426.4" y="3.6" width="335.7" height="335.4" fill="none" stroke="#2e2e2e" stroke-width="1.35"/>
  <g clip-path="url(#cb)" fill="none">
    <path d="M426.7,21.8 L427.81,21.84 L428.93,21.9 L430.04,21.98 L431.16,22.07 L432.27,22.17 L433.39,22.28 L434.5,22.4 L435.62,22.52 L436.73,22.67 L437.85,22.84 L438.96,23.03 L440.08,23.23 L441.19,23.46 L442.31,23.7 L443.42,23.95 L444.54,24.2 L445.65,24.46 L446.76,24.73 L447.88,25.02 L448.99,25.32 L450.11,25.64 L451.22,25.98 L452.34,26.34 L453.45,26.71 L454.57,27.1 L455.68,27.5 L456.8,27.93 L457.91,28.4 L459.03,28.9 L460.14,29.43 L461.26,29.99 L462.37,30.58 L463.49,31.17 L464.6,31.79 L465.72,32.41 L466.83,33.03 L467.94,33.66 L469.06,34.31 L470.17,34.98 L471.29,35.67 L472.4,36.37 L473.52,37.1 L474.63,37.84 L475.75,38.61 L476.86,39.4 L477.98,40.21 L479.09,41.03 L480.21,41.88 L481.32,42.76 L482.44,43.7 L483.55,44.69 L484.67,45.76 L485.78,46.91 L486.89,48.19 L488.01,49.59 L489.12,51.11 L490.24,52.74 L491.35,54.47 L492.47,56.34 L493.58,58.42 L494.7,60.66 L495.81,63.01 L496.93,65.42 L498.04,67.85 L499.16,70.42 L500.27,73.11 L501.39,75.84 L502.5,78.53 L503.62,81.1 L504.73,83.31 L505.84,85.5 L506.96,88.13 L508.07,91.88 L509.19,97.45 L510.3,103.83 L511.42,110.64 L512.53,116.28 L513.65,120.75 L514.76,123.64 L515.88,125.98 L516.99,127.88 L518.11,129.48 L519.22,130.91 L520.34,132.19 L521.45,133.33 L522.57,134.34 L523.68,135.21 L524.79,135.96 L525.91,136.63 L527.02,137.25 L528.14,137.81 L529.25,138.32 L530.37,138.8 L531.48,139.25 L532.6,139.67 L533.71,140.08 L534.83,140.46 L535.94,140.82 L537.06,141.16 L538.17,141.49 L539.29,141.8 L540.4,142.1 L541.52,142.38 L542.63,142.66 L543.75,142.93 L544.86,143.19 L545.97,143.44 L547.09,143.69 L548.2,143.93 L549.32,144.17 L550.43,144.39 L551.55,144.6 L552.66,144.79 L553.78,144.98 L554.89,145.14 L556.01,145.3 L557.12,145.45 L558.24,145.59 L559.35,145.72 L560.47,145.85 L561.58,145.97 L562.7,146.08 L563.81,146.17 L564.92,146.26 L566.04,146.33 L567.15,146.39 L568.27,146.45 L569.38,146.51 L570.5,146.57 L571.61,146.63 L572.73,146.68 L573.84,146.73 L574.96,146.78 L576.07,146.82 L577.19,146.86 L578.3,146.9 L579.42,146.94 L580.53,146.97 L581.65,147 L582.76,147.03 L583.87,147.06 L584.99,147.08 L586.1,147.1 L587.22,147.12 L588.33,147.14 L589.45,147.16 L590.56,147.17 L591.68,147.19 L592.79,147.2 L593.91,147.22 L595.02,147.23 L596.14,147.25 L597.25,147.26 L598.37,147.27 L599.48,147.29 L600.6,147.3 L601.71,147.31 L602.83,147.32 L603.94,147.33 L605.05,147.34 L606.17,147.35 L607.28,147.36 L608.4,147.37 L609.51,147.38 L610.63,147.39 L611.74,147.4 L612.86,147.41 L613.97,147.42 L615.09,147.43 L616.2,147.44 L617.32,147.44 L618.43,147.45 L619.55,147.46 L620.66,147.47 L621.78,147.48 L622.89,147.48 L624,147.49 L625.12,147.5 L626.23,147.51 L627.35,147.52 L628.46,147.52 L629.58,147.53 L630.69,147.54 L631.81,147.55 L632.92,147.56 L634.04,147.57 L635.15,147.58 L636.27,147.59 L637.38,147.6 L638.5,147.61 L639.61,147.62 L640.73,147.62 L641.84,147.63 L642.95,147.64 L644.07,147.65 L645.18,147.66 L646.3,147.67 L647.41,147.68 L648.53,147.69 L649.64,147.7 L650.76,147.71 L651.87,147.72 L652.99,147.73 L654.1,147.74 L655.22,147.75 L656.33,147.76 L657.45,147.77 L658.56,147.78 L659.68,147.79 L660.79,147.8 L661.91,147.81 L663.02,147.82 L664.13,147.83 L665.25,147.84 L666.36,147.85 L667.48,147.86 L668.59,147.87 L669.71,147.88 L670.82,147.89 L671.94,147.9 L673.05,147.9 L674.17,147.91 L675.28,147.92 L676.4,147.93 L677.51,147.94 L678.63,147.95 L679.74,147.96 L680.86,147.97 L681.97,147.97 L683.08,147.98 L684.2,147.99 L685.31,148 L686.43,148.01 L687.54,148.02 L688.66,148.02 L689.77,148.03 L690.89,148.04 L692,148.05 L693.12,148.06 L694.23,148.06 L695.35,148.07 L696.46,148.08 L697.58,148.08 L698.69,148.09 L699.81,148.1 L700.92,148.11 L702.03,148.11 L703.15,148.12 L704.26,148.13 L705.38,148.13 L706.49,148.14 L707.61,148.15 L708.72,148.15 L709.84,148.16 L710.95,148.17 L712.07,148.17 L713.18,148.18 L714.3,148.19 L715.41,148.19 L716.53,148.2 L717.64,148.2 L718.76,148.21 L719.87,148.22 L720.98,148.22 L722.1,148.23 L723.21,148.23 L724.33,148.24 L725.44,148.25 L726.56,148.25 L727.67,148.26 L728.79,148.26 L729.9,148.27 L731.02,148.28 L732.13,148.28 L733.25,148.29 L734.36,148.29 L735.48,148.3 L736.59,148.3 L737.71,148.31 L738.82,148.31 L739.94,148.32 L741.05,148.32 L742.16,148.33 L743.28,148.33 L744.39,148.34 L745.51,148.34 L746.62,148.35 L747.74,148.35 L748.85,148.36 L749.97,148.36 L751.08,148.37 L752.2,148.37 L753.31,148.38 L754.43,148.38 L755.54,148.38 L756.66,148.39 L757.77,148.39 L758.89,148.4 L760,148.4" stroke="#008080" stroke-width="2"/>
    <g clip-path="url(#ch)" stroke="#808080" stroke-width="1.3">
      <line x1="426.8" y1="186.4" x2="560" y2="186.4" stroke-dasharray="5.2 2.15"/>
      <line x1="426.8" y1="194.04" x2="560" y2="194.04" stroke-dasharray="10.3 3.6"/>
      <line x1="426.8" y1="201.68" x2="560" y2="201.68" stroke-dasharray="7.2 2.2 8.1 5.2"/>
      <line x1="426.8" y1="209.32" x2="560" y2="209.32" stroke-dasharray="5.2 2.15"/>
      <line x1="426.8" y1="216.96" x2="560" y2="216.96" stroke-dasharray="10.3 3.6"/>
      <line x1="426.8" y1="224.6" x2="560" y2="224.6" stroke-dasharray="7.8 3.0"/>
      <line x1="426.8" y1="232.24" x2="560" y2="232.24" stroke-dasharray="5.2 2.15"/>
      <line x1="426.8" y1="239.88" x2="560" y2="239.88" stroke-dasharray="10.3 3.6"/>
      <line x1="426.8" y1="247.52" x2="560" y2="247.52" stroke-dasharray="7.8 3.0"/>
      <line x1="426.8" y1="255.16" x2="560" y2="255.16" stroke-dasharray="5.2 2.15"/>
      <line x1="426.8" y1="262.8" x2="560" y2="262.8" stroke-dasharray="10.3 3.6"/>
      <line x1="426.8" y1="270.44" x2="560" y2="270.44" stroke-dasharray="7.8 3.0"/>
      <line x1="426.8" y1="278.08" x2="560" y2="278.08" stroke-dasharray="5.2 2.15"/>
      <line x1="426.8" y1="285.72" x2="560" y2="285.72" stroke-dasharray="10.3 3.6"/>
      <line x1="426.8" y1="293.36" x2="560" y2="293.36" stroke-dasharray="7.8 3.0"/>
    </g>
    <line x1="426" y1="149.8" x2="763" y2="149.8" stroke="#0000ff" stroke-width="2"/>
    <line x1="426" y1="173" x2="763" y2="173" stroke="#0000ff" stroke-width="2"/>
    <path d="M426.5,300 L427.34,299.94 L428.17,299.89 L429.01,299.82 L429.84,299.76 L430.68,299.7 L431.52,299.63 L432.35,299.56 L433.19,299.49 L434.02,299.42 L434.86,299.35 L435.69,299.27 L436.53,299.2 L437.37,299.13 L438.2,299.06 L439.04,298.98 L439.87,298.91 L440.71,298.83 L441.55,298.74 L442.38,298.65 L443.22,298.56 L444.05,298.45 L444.89,298.34 L445.72,298.21 L446.56,298.07 L447.4,297.9 L448.23,297.7 L449.07,297.48 L449.9,297.23 L450.74,296.97 L451.58,296.69 L452.41,296.4 L453.25,296.1 L454.08,295.78 L454.92,295.46 L455.75,295.14 L456.59,294.8 L457.43,294.44 L458.26,294.05 L459.1,293.64 L459.93,293.2 L460.77,292.75 L461.61,292.28 L462.44,291.8 L463.28,291.32 L464.11,290.82 L464.95,290.32 L465.78,289.82 L466.62,289.33 L467.46,288.83 L468.29,288.34 L469.13,287.84 L469.96,287.33 L470.8,286.81 L471.64,286.29 L472.47,285.75 L473.31,285.19 L474.14,284.62 L474.98,284.03 L475.81,283.42 L476.65,282.79 L477.49,282.14 L478.32,281.47 L479.16,280.78 L479.99,280.06 L480.83,279.33 L481.67,278.56 L482.5,277.77 L483.34,276.95 L484.17,276.1 L485.01,275.22 L485.84,274.3 L486.68,273.34 L487.52,272.34 L488.35,271.25 L489.19,270.08 L490.02,268.82 L490.86,267.51 L491.7,266.14 L492.53,264.73 L493.37,263.3 L494.2,261.84 L495.04,260.32 L495.87,258.74 L496.71,257.11 L497.55,255.44 L498.38,253.72 L499.22,251.97 L500.05,250.18 L500.89,248.36 L501.73,246.47 L502.56,244.52 L503.4,242.52 L504.23,240.47 L505.07,238.41 L505.9,236.39 L506.74,234.22 L507.58,231.67 L508.41,228.46 L509.25,224.39 L510.08,219.69 L510.92,213.78 L511.76,207.98 L512.59,203.5 L513.43,200.62 L514.26,198.58 L515.1,196.94 L515.93,195.47 L516.77,194.09 L517.61,192.82 L518.44,191.68 L519.28,190.67 L520.11,189.77 L520.95,188.94 L521.79,188.17 L522.62,187.46 L523.46,186.8 L524.29,186.2 L525.13,185.64 L525.96,185.13 L526.8,184.64 L527.64,184.18 L528.47,183.75 L529.31,183.35 L530.14,182.99 L530.98,182.65 L531.82,182.36 L532.65,182.08 L533.49,181.83 L534.32,181.59 L535.16,181.37 L535.99,181.16 L536.83,180.96 L537.67,180.76 L538.5,180.56 L539.34,180.36 L540.17,180.16 L541.01,179.95 L541.85,179.74 L542.68,179.54 L543.52,179.35 L544.35,179.18 L545.19,179.03 L546.03,178.89 L546.86,178.75 L547.7,178.62 L548.53,178.49 L549.37,178.37 L550.2,178.25 L551.04,178.14 L551.88,178.03 L552.71,177.92 L553.55,177.81 L554.38,177.71 L555.22,177.61 L556.06,177.51 L556.89,177.42 L557.73,177.32 L558.56,177.23 L559.4,177.13 L560.23,177.04 L561.07,176.95 L561.91,176.86 L562.74,176.77 L563.58,176.68 L564.41,176.59 L565.25,176.51 L566.09,176.42 L566.92,176.34 L567.76,176.26 L568.59,176.18 L569.43,176.11 L570.26,176.03 L571.1,175.96 L571.94,175.89 L572.77,175.83 L573.61,175.76 L574.44,175.7 L575.28,175.65 L576.12,175.59 L576.95,175.53 L577.79,175.47 L578.62,175.41 L579.46,175.35 L580.29,175.3 L581.13,175.24 L581.97,175.18 L582.8,175.13 L583.64,175.08 L584.47,175.03 L585.31,174.97 L586.15,174.93 L586.98,174.88 L587.82,174.83 L588.65,174.79 L589.49,174.75 L590.32,174.71 L591.16,174.67 L592,174.64 L592.83,174.61 L593.67,174.58 L594.5,174.55 L595.34,174.53 L596.18,174.51 L597.01,174.5 L597.85,174.48 L598.68,174.47 L599.52,174.45 L600.35,174.44 L601.19,174.43 L602.03,174.41 L602.86,174.4 L603.7,174.39 L604.53,174.37 L605.37,174.36 L606.21,174.35 L607.04,174.34 L607.88,174.33 L608.71,174.32 L609.55,174.31 L610.38,174.3 L611.22,174.29 L612.06,174.28 L612.89,174.27 L613.73,174.26 L614.56,174.26 L615.4,174.25 L616.24,174.24 L617.07,174.24 L617.91,174.23 L618.74,174.22 L619.58,174.22 L620.41,174.21 L621.25,174.21 L622.09,174.21 L622.92,174.21 L623.76,174.2 L624.59,174.2 L625.43,174.2 L626.27,174.2 L627.1,174.2 L627.94,174.2 L628.77,174.2 L629.61,174.2 L630.44,174.2 L631.28,174.2 L632.12,174.2 L632.95,174.2 L633.79,174.2 L634.62,174.2 L635.46,174.2 L636.3,174.2 L637.13,174.2 L637.97,174.2 L638.8,174.2 L639.64,174.2 L640.47,174.2 L641.31,174.2 L642.15,174.2 L642.98,174.2 L643.82,174.2 L644.65,174.2 L645.49,174.2 L646.33,174.2 L647.16,174.2 L648,174.2 L648.83,174.2 L649.67,174.2 L650.51,174.2 L651.34,174.2 L652.18,174.2 L653.01,174.2 L653.85,174.2 L654.68,174.2 L655.52,174.2 L656.36,174.2 L657.19,174.2 L658.03,174.2 L658.86,174.2 L659.7,174.2 L660.54,174.2 L661.37,174.2 L662.21,174.2 L663.04,174.2 L663.88,174.2 L664.71,174.2 L665.55,174.2 L666.39,174.2 L667.22,174.2 L668.06,174.2 L668.89,174.2 L669.73,174.2 L670.57,174.2 L671.4,174.2 L672.24,174.2 L673.07,174.2 L673.91,174.2 L674.74,174.2 L675.58,174.2 L676.42,174.2 L677.25,174.2 L678.09,174.2 L678.92,174.2 L679.76,174.2 L680.6,174.2 L681.43,174.2 L682.27,174.2 L683.1,174.2 L683.94,174.2 L684.77,174.2 L685.61,174.2 L686.45,174.2 L687.28,174.2 L688.12,174.2 L688.95,174.2 L689.79,174.2 L690.63,174.2 L691.46,174.2 L692.3,174.2 L693.13,174.2 L693.97,174.2 L694.8,174.2 L695.64,174.2 L696.48,174.2 L697.31,174.2 L698.15,174.2 L698.98,174.2 L699.82,174.2 L700.66,174.2 L701.49,174.2 L702.33,174.2 L703.16,174.2 L704,174.2 L704.83,174.2 L705.67,174.2 L706.51,174.2 L707.34,174.2 L708.18,174.2 L709.01,174.2 L709.85,174.2 L710.69,174.2 L711.52,174.2 L712.36,174.2 L713.19,174.2 L714.03,174.2 L714.86,174.2 L715.7,174.2 L716.54,174.2 L717.37,174.2 L718.21,174.2 L719.04,174.2 L719.88,174.2 L720.72,174.2 L721.55,174.2 L722.39,174.2 L723.22,174.2 L724.06,174.2 L724.89,174.2 L725.73,174.2 L726.57,174.2 L727.4,174.2 L728.24,174.2 L729.07,174.2 L729.91,174.2 L730.75,174.2 L731.58,174.2 L732.42,174.2 L733.25,174.2 L734.09,174.2 L734.92,174.2 L735.76,174.2 L736.6,174.2 L737.43,174.2 L738.27,174.2 L739.1,174.2 L739.94,174.2 L740.78,174.2 L741.61,174.2 L742.45,174.2 L743.28,174.2 L744.12,174.2 L744.95,174.2 L745.79,174.2 L746.63,174.2 L747.46,174.2 L748.3,174.2 L749.13,174.2 L749.97,174.2 L750.81,174.2 L751.64,174.2 L752.48,174.2 L753.31,174.2 L754.15,174.2 L754.98,174.2 L755.82,174.2 L756.66,174.2 L757.49,174.2 L758.33,174.2 L759.16,174.2 L760,174.2" stroke="#ff00ff" stroke-width="1.8"/>
  </g>
  <line x1="426.2" y1="179" x2="625" y2="179" stroke="#000" stroke-width="3.2" stroke-linecap="round" stroke-dasharray="0 5.07"/>
  <!-- Labels -->
  <text x="6.62" y="24.4" font-size="22.2" font-weight="bold" class="tk" textLength="15.39" lengthAdjust="spacingAndGlyphs">A</text>
  <text x="390.37" y="24.2" font-size="22.2" font-weight="bold" class="tk" textLength="15.32" lengthAdjust="spacingAndGlyphs">B</text>
  <text x="128.02" y="376.7" font-size="24.5" class="th" textLength="69.56" lengthAdjust="spacingAndGlyphs">Wave</text>
  <text x="205.31" y="376.7" font-size="24.5" class="th" textLength="76.63" lengthAdjust="spacingAndGlyphs">vector</text>
  <text x="287.76" y="376.7" font-size="24.5" font-style="italic" class="th" textLength="10.86" lengthAdjust="spacingAndGlyphs">k</text>
  <text x="480.95" y="377.7" font-size="24.5" class="th" textLength="162.43" lengthAdjust="spacingAndGlyphs">Renormalized</text>
  <text x="649.97" y="378" font-size="24.5" style='font-family:"DejaVu Serif",serif' class="th" textLength="18.69" lengthAdjust="spacingAndGlyphs">ℕ</text>
  <text x="667.88" y="376.2" font-size="24.5" textLength="10" lengthAdjust="spacingAndGlyphs">*</text>
  <text x="678.2" y="377.7" font-size="24.5" class="th">(</text>
  <text x="687.54" y="377.7" font-size="24.5" class="th" textLength="9.56" lengthAdjust="spacingAndGlyphs">ε</text>
  <text x="698.45" y="377.7" font-size="24.5" class="th">)</text>
  <text transform="translate(20.8,233) rotate(-90)" x="-2.08" y="0" font-size="24.5" class="th" textLength="80.73" lengthAdjust="spacingAndGlyphs">Energy</text>
  <text transform="translate(20.8,145.2) rotate(-90)" x="-0.72" y="0" font-size="24.5" class="th" textLength="38.08" lengthAdjust="spacingAndGlyphs">ε(<tspan font-style="italic">k</tspan>)</text>
  <text transform="translate(802.5,226.4) rotate(-90)" x="-2.07" y="0" font-size="24.5" class="th" textLength="80.42" lengthAdjust="spacingAndGlyphs">Energy</text>
  <text transform="translate(802.5,137.3) rotate(-90)" x="-1.32" y="0" font-size="24.5" class="th" textLength="24.05" lengthAdjust="spacingAndGlyphs">(ε)</text>
  <text x="149.34" y="105.9" font-size="19" fill="#ff0000" class="th2" textLength="53.52" lengthAdjust="spacingAndGlyphs">direct</text>
  <text x="208.17" y="105.9" font-size="19" fill="#ff0000" class="th2" textLength="39.3" lengthAdjust="spacingAndGlyphs">gap</text>
  <text x="299.79" y="111.5" font-size="19" fill="#ff0000" class="th2" textLength="69.31" lengthAdjust="spacingAndGlyphs">indirect</text>
  <text x="300.28" y="133.8" font-size="19" fill="#ff0000" class="th2" textLength="38.88" lengthAdjust="spacingAndGlyphs">gap</text>
  <text x="314.86" y="47.8" font-size="22" textLength="9.7" lengthAdjust="spacingAndGlyphs">ε</text>
  <text x="324.57" y="47.8" font-size="22">(</text>
  <text x="332.65" y="47.8" font-size="22" font-style="italic" textLength="9.97" lengthAdjust="spacingAndGlyphs">k</text>
  <text x="343.98" y="47.8" font-size="22">)</text>
  <text x="313.91" y="236.9" font-size="22" font-style="italic" textLength="11.65" lengthAdjust="spacingAndGlyphs">E</text>
  <text x="325.82" y="243.8" font-size="14.8" textLength="7.11" lengthAdjust="spacingAndGlyphs">F</text>
  <text x="591.72" y="205.5" font-size="22" font-style="italic" textLength="11.44" lengthAdjust="spacingAndGlyphs">E</text>
  <text x="603.5" y="212.5" font-size="14.8" textLength="7.24" lengthAdjust="spacingAndGlyphs">F</text>
</svg>
</body></html>
